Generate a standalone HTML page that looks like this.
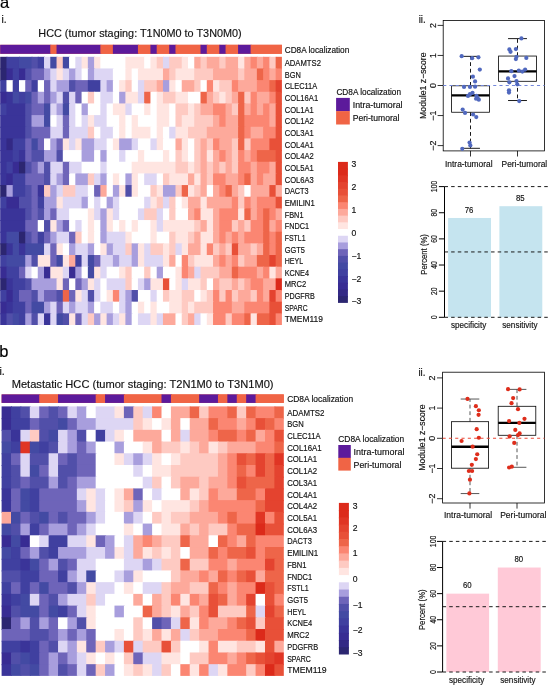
<!DOCTYPE html>
<html lang="en"><head><meta charset="utf-8"><title>Figure</title>
<style>html,body{margin:0;padding:0;background:#fff;overflow:hidden}svg{display:block}text{font-family:"Liberation Sans",sans-serif;stroke:#111;stroke-width:0.16px;paint-order:stroke fill}</style>
</head><body>
<svg width="548" height="685" viewBox="0 0 548 685">
<rect width="548" height="685" fill="#fff"/>
<text x="0" y="8.3" font-size="16.5" fill="#000">a</text>
<text x="1.6" y="22.5" font-size="10.2" fill="#111">i.</text>
<text x="140" y="36.5" font-size="11.3" text-anchor="middle" textLength="203.4" lengthAdjust="spacingAndGlyphs" fill="#111">HCC (tumor staging: T1N0M0 to T3N0M0)</text>
<g shape-rendering="geometricPrecision">
<rect x="0.2" y="44.8" width="281.7" height="9" fill="#F06445"/>
<rect x="0.2" y="44.8" width="51.08" height="9" fill="#5C1A9B"/>
<rect x="50.28" y="44.8" width="7.26" height="9" fill="#F06445"/>
<rect x="56.54" y="44.8" width="44.82" height="9" fill="#5C1A9B"/>
<rect x="100.36" y="44.8" width="13.52" height="9" fill="#F06445"/>
<rect x="112.88" y="44.8" width="26.04" height="9" fill="#5C1A9B"/>
<rect x="137.92" y="44.8" width="13.52" height="9" fill="#F06445"/>
<rect x="150.44" y="44.8" width="7.26" height="9" fill="#5C1A9B"/>
<rect x="156.7" y="44.8" width="13.52" height="9" fill="#F06445"/>
<rect x="169.22" y="44.8" width="7.26" height="9" fill="#5C1A9B"/>
<rect x="175.48" y="44.8" width="26.04" height="9" fill="#F06445"/>
<rect x="200.52" y="44.8" width="7.26" height="9" fill="#5C1A9B"/>
<rect x="206.78" y="44.8" width="13.52" height="9" fill="#F06445"/>
<rect x="219.3" y="44.8" width="7.26" height="9" fill="#5C1A9B"/>
<rect x="225.56" y="44.8" width="13.52" height="9" fill="#F06445"/>
<rect x="238.08" y="44.8" width="13.52" height="9" fill="#5C1A9B"/>
<rect x="250.6" y="44.8" width="31.3" height="9" fill="#F06445"/>
<rect x="0.2" y="56.8" width="7.26" height="12.66" fill="#2C2671"/>
<rect x="6.46" y="56.8" width="13.52" height="12.66" fill="#4040A0"/>
<rect x="18.98" y="56.8" width="13.52" height="12.66" fill="#434AA3"/>
<rect x="31.5" y="56.8" width="7.26" height="12.66" fill="#514FA9"/>
<rect x="37.76" y="56.8" width="7.26" height="12.66" fill="#4040A0"/>
<rect x="44.02" y="56.8" width="7.26" height="12.66" fill="#DDD6F4"/>
<rect x="50.28" y="56.8" width="7.26" height="12.66" fill="#434AA3"/>
<rect x="56.54" y="56.8" width="7.26" height="12.66" fill="#FECAC2"/>
<rect x="62.8" y="56.8" width="7.26" height="12.66" fill="#434AA3"/>
<rect x="69.06" y="56.8" width="7.26" height="12.66" fill="#FFFFFF"/>
<rect x="75.32" y="56.8" width="7.26" height="12.66" fill="#DDD6F4"/>
<rect x="81.58" y="56.8" width="7.26" height="12.66" fill="#FFE5E1"/>
<rect x="87.84" y="56.8" width="7.26" height="12.66" fill="#A89EDD"/>
<rect x="94.1" y="56.8" width="7.26" height="12.66" fill="#FFE5E1"/>
<rect x="100.36" y="56.8" width="26.04" height="12.66" fill="#FFFFFF"/>
<rect x="125.4" y="56.8" width="19.78" height="12.66" fill="#FFE5E1"/>
<rect x="144.18" y="56.8" width="7.26" height="12.66" fill="#FFFFFF"/>
<rect x="150.44" y="56.8" width="7.26" height="12.66" fill="#FFE5E1"/>
<rect x="156.7" y="56.8" width="7.26" height="12.66" fill="#FECAC2"/>
<rect x="162.96" y="56.8" width="7.26" height="12.66" fill="#DDD6F4"/>
<rect x="169.22" y="56.8" width="13.52" height="12.66" fill="#FECAC2"/>
<rect x="181.74" y="56.8" width="7.26" height="12.66" fill="#FFE5E1"/>
<rect x="188" y="56.8" width="7.26" height="12.66" fill="#FFFFFF"/>
<rect x="194.26" y="56.8" width="7.26" height="12.66" fill="#FDA99B"/>
<rect x="200.52" y="56.8" width="7.26" height="12.66" fill="#FECAC2"/>
<rect x="206.78" y="56.8" width="13.52" height="12.66" fill="#FDA99B"/>
<rect x="219.3" y="56.8" width="7.26" height="12.66" fill="#FECAC2"/>
<rect x="225.56" y="56.8" width="13.52" height="12.66" fill="#FDA99B"/>
<rect x="238.08" y="56.8" width="7.26" height="12.66" fill="#FFE5E1"/>
<rect x="244.34" y="56.8" width="7.26" height="12.66" fill="#FDA99B"/>
<rect x="250.6" y="56.8" width="7.26" height="12.66" fill="#FB8672"/>
<rect x="256.86" y="56.8" width="7.26" height="12.66" fill="#FDA99B"/>
<rect x="263.12" y="56.8" width="7.26" height="12.66" fill="#FB8672"/>
<rect x="269.38" y="56.8" width="7.26" height="12.66" fill="#FECAC2"/>
<rect x="275.64" y="56.8" width="6.26" height="12.66" fill="#EE6549"/>
<rect x="0.2" y="68.46" width="7.26" height="12.66" fill="#2C2671"/>
<rect x="6.46" y="68.46" width="7.26" height="12.66" fill="#382C93"/>
<rect x="12.72" y="68.46" width="7.26" height="12.66" fill="#4040A0"/>
<rect x="18.98" y="68.46" width="7.26" height="12.66" fill="#382C93"/>
<rect x="25.24" y="68.46" width="7.26" height="12.66" fill="#514FA9"/>
<rect x="31.5" y="68.46" width="13.52" height="12.66" fill="#6E64B9"/>
<rect x="44.02" y="68.46" width="7.26" height="12.66" fill="#A89EDD"/>
<rect x="50.28" y="68.46" width="7.26" height="12.66" fill="#DDD6F4"/>
<rect x="56.54" y="68.46" width="7.26" height="12.66" fill="#FFE5E1"/>
<rect x="62.8" y="68.46" width="7.26" height="12.66" fill="#DDD6F4"/>
<rect x="69.06" y="68.46" width="7.26" height="12.66" fill="#A89EDD"/>
<rect x="75.32" y="68.46" width="7.26" height="12.66" fill="#DDD6F4"/>
<rect x="81.58" y="68.46" width="7.26" height="12.66" fill="#FFFFFF"/>
<rect x="87.84" y="68.46" width="7.26" height="12.66" fill="#A89EDD"/>
<rect x="94.1" y="68.46" width="19.78" height="12.66" fill="#DDD6F4"/>
<rect x="112.88" y="68.46" width="13.52" height="12.66" fill="#FFFFFF"/>
<rect x="125.4" y="68.46" width="7.26" height="12.66" fill="#FFE5E1"/>
<rect x="131.66" y="68.46" width="7.26" height="12.66" fill="#FFFFFF"/>
<rect x="137.92" y="68.46" width="26.04" height="12.66" fill="#FFE5E1"/>
<rect x="162.96" y="68.46" width="7.26" height="12.66" fill="#FDA99B"/>
<rect x="169.22" y="68.46" width="7.26" height="12.66" fill="#FECAC2"/>
<rect x="175.48" y="68.46" width="19.78" height="12.66" fill="#FFE5E1"/>
<rect x="194.26" y="68.46" width="19.78" height="12.66" fill="#FECAC2"/>
<rect x="213.04" y="68.46" width="26.04" height="12.66" fill="#FDA99B"/>
<rect x="238.08" y="68.46" width="7.26" height="12.66" fill="#FECAC2"/>
<rect x="244.34" y="68.46" width="13.52" height="12.66" fill="#FDA99B"/>
<rect x="256.86" y="68.46" width="7.26" height="12.66" fill="#EE6549"/>
<rect x="263.12" y="68.46" width="7.26" height="12.66" fill="#FB8672"/>
<rect x="269.38" y="68.46" width="7.26" height="12.66" fill="#FDA99B"/>
<rect x="275.64" y="68.46" width="6.26" height="12.66" fill="#FB8672"/>
<rect x="0.2" y="80.12" width="7.26" height="12.66" fill="#4040A0"/>
<rect x="6.46" y="80.12" width="7.26" height="12.66" fill="#FFFFFF"/>
<rect x="12.72" y="80.12" width="7.26" height="12.66" fill="#4040A0"/>
<rect x="18.98" y="80.12" width="7.26" height="12.66" fill="#FFFFFF"/>
<rect x="25.24" y="80.12" width="7.26" height="12.66" fill="#6E64B9"/>
<rect x="31.5" y="80.12" width="7.26" height="12.66" fill="#4040A0"/>
<rect x="37.76" y="80.12" width="7.26" height="12.66" fill="#FFFFFF"/>
<rect x="44.02" y="80.12" width="7.26" height="12.66" fill="#6E64B9"/>
<rect x="50.28" y="80.12" width="7.26" height="12.66" fill="#DDD6F4"/>
<rect x="56.54" y="80.12" width="13.52" height="12.66" fill="#A89EDD"/>
<rect x="69.06" y="80.12" width="7.26" height="12.66" fill="#514FA9"/>
<rect x="75.32" y="80.12" width="13.52" height="12.66" fill="#6E64B9"/>
<rect x="87.84" y="80.12" width="13.52" height="12.66" fill="#4040A0"/>
<rect x="100.36" y="80.12" width="7.26" height="12.66" fill="#DDD6F4"/>
<rect x="106.62" y="80.12" width="7.26" height="12.66" fill="#A89EDD"/>
<rect x="112.88" y="80.12" width="7.26" height="12.66" fill="#FFFFFF"/>
<rect x="119.14" y="80.12" width="7.26" height="12.66" fill="#FFE5E1"/>
<rect x="125.4" y="80.12" width="7.26" height="12.66" fill="#FECAC2"/>
<rect x="131.66" y="80.12" width="7.26" height="12.66" fill="#FFFFFF"/>
<rect x="137.92" y="80.12" width="7.26" height="12.66" fill="#DDD6F4"/>
<rect x="144.18" y="80.12" width="13.52" height="12.66" fill="#FECAC2"/>
<rect x="156.7" y="80.12" width="7.26" height="12.66" fill="#FDA99B"/>
<rect x="162.96" y="80.12" width="7.26" height="12.66" fill="#A89EDD"/>
<rect x="169.22" y="80.12" width="7.26" height="12.66" fill="#FFE5E1"/>
<rect x="175.48" y="80.12" width="7.26" height="12.66" fill="#FFFFFF"/>
<rect x="181.74" y="80.12" width="13.52" height="12.66" fill="#FDA99B"/>
<rect x="194.26" y="80.12" width="7.26" height="12.66" fill="#FECAC2"/>
<rect x="200.52" y="80.12" width="7.26" height="12.66" fill="#FFFFFF"/>
<rect x="206.78" y="80.12" width="7.26" height="12.66" fill="#FB8672"/>
<rect x="213.04" y="80.12" width="7.26" height="12.66" fill="#FFE5E1"/>
<rect x="219.3" y="80.12" width="13.52" height="12.66" fill="#FECAC2"/>
<rect x="231.82" y="80.12" width="7.26" height="12.66" fill="#FB8672"/>
<rect x="238.08" y="80.12" width="19.78" height="12.66" fill="#FDA99B"/>
<rect x="256.86" y="80.12" width="13.52" height="12.66" fill="#FB8672"/>
<rect x="269.38" y="80.12" width="7.26" height="12.66" fill="#EE6549"/>
<rect x="275.64" y="80.12" width="6.26" height="12.66" fill="#E4432F"/>
<rect x="0.2" y="91.78" width="7.26" height="12.66" fill="#382C93"/>
<rect x="6.46" y="91.78" width="7.26" height="12.66" fill="#3A3499"/>
<rect x="12.72" y="91.78" width="7.26" height="12.66" fill="#434AA3"/>
<rect x="18.98" y="91.78" width="7.26" height="12.66" fill="#4040A0"/>
<rect x="25.24" y="91.78" width="7.26" height="12.66" fill="#434AA3"/>
<rect x="31.5" y="91.78" width="7.26" height="12.66" fill="#6E64B9"/>
<rect x="37.76" y="91.78" width="7.26" height="12.66" fill="#A89EDD"/>
<rect x="44.02" y="91.78" width="7.26" height="12.66" fill="#6E64B9"/>
<rect x="50.28" y="91.78" width="7.26" height="12.66" fill="#A89EDD"/>
<rect x="56.54" y="91.78" width="7.26" height="12.66" fill="#DDD6F4"/>
<rect x="62.8" y="91.78" width="7.26" height="12.66" fill="#514FA9"/>
<rect x="69.06" y="91.78" width="7.26" height="12.66" fill="#DDD6F4"/>
<rect x="75.32" y="91.78" width="7.26" height="12.66" fill="#6E64B9"/>
<rect x="81.58" y="91.78" width="7.26" height="12.66" fill="#FFFFFF"/>
<rect x="87.84" y="91.78" width="7.26" height="12.66" fill="#FECAC2"/>
<rect x="94.1" y="91.78" width="7.26" height="12.66" fill="#FFFFFF"/>
<rect x="100.36" y="91.78" width="13.52" height="12.66" fill="#DDD6F4"/>
<rect x="112.88" y="91.78" width="7.26" height="12.66" fill="#FFFFFF"/>
<rect x="119.14" y="91.78" width="7.26" height="12.66" fill="#A89EDD"/>
<rect x="125.4" y="91.78" width="13.52" height="12.66" fill="#FFE5E1"/>
<rect x="137.92" y="91.78" width="7.26" height="12.66" fill="#DDD6F4"/>
<rect x="144.18" y="91.78" width="7.26" height="12.66" fill="#EE6549"/>
<rect x="150.44" y="91.78" width="7.26" height="12.66" fill="#FFFFFF"/>
<rect x="156.7" y="91.78" width="7.26" height="12.66" fill="#FFE5E1"/>
<rect x="162.96" y="91.78" width="13.52" height="12.66" fill="#FECAC2"/>
<rect x="175.48" y="91.78" width="13.52" height="12.66" fill="#FFE5E1"/>
<rect x="188" y="91.78" width="13.52" height="12.66" fill="#FFFFFF"/>
<rect x="200.52" y="91.78" width="7.26" height="12.66" fill="#EE6549"/>
<rect x="206.78" y="91.78" width="7.26" height="12.66" fill="#FDA99B"/>
<rect x="213.04" y="91.78" width="7.26" height="12.66" fill="#FECAC2"/>
<rect x="219.3" y="91.78" width="7.26" height="12.66" fill="#FFE5E1"/>
<rect x="225.56" y="91.78" width="7.26" height="12.66" fill="#FECAC2"/>
<rect x="231.82" y="91.78" width="7.26" height="12.66" fill="#FDA99B"/>
<rect x="238.08" y="91.78" width="7.26" height="12.66" fill="#EE6549"/>
<rect x="244.34" y="91.78" width="7.26" height="12.66" fill="#FECAC2"/>
<rect x="250.6" y="91.78" width="7.26" height="12.66" fill="#FB8672"/>
<rect x="256.86" y="91.78" width="13.52" height="12.66" fill="#FDA99B"/>
<rect x="269.38" y="91.78" width="7.26" height="12.66" fill="#FB8672"/>
<rect x="275.64" y="91.78" width="6.26" height="12.66" fill="#E85038"/>
<rect x="0.2" y="103.44" width="7.26" height="12.66" fill="#4040A0"/>
<rect x="6.46" y="103.44" width="19.78" height="12.66" fill="#3A3499"/>
<rect x="25.24" y="103.44" width="7.26" height="12.66" fill="#514FA9"/>
<rect x="31.5" y="103.44" width="13.52" height="12.66" fill="#6E64B9"/>
<rect x="44.02" y="103.44" width="7.26" height="12.66" fill="#434AA3"/>
<rect x="50.28" y="103.44" width="7.26" height="12.66" fill="#DDD6F4"/>
<rect x="56.54" y="103.44" width="7.26" height="12.66" fill="#A89EDD"/>
<rect x="62.8" y="103.44" width="7.26" height="12.66" fill="#434AA3"/>
<rect x="69.06" y="103.44" width="7.26" height="12.66" fill="#DDD6F4"/>
<rect x="75.32" y="103.44" width="7.26" height="12.66" fill="#FFFFFF"/>
<rect x="81.58" y="103.44" width="7.26" height="12.66" fill="#A89EDD"/>
<rect x="87.84" y="103.44" width="13.52" height="12.66" fill="#FFFFFF"/>
<rect x="100.36" y="103.44" width="7.26" height="12.66" fill="#DDD6F4"/>
<rect x="106.62" y="103.44" width="7.26" height="12.66" fill="#FFFFFF"/>
<rect x="112.88" y="103.44" width="13.52" height="12.66" fill="#FFE5E1"/>
<rect x="125.4" y="103.44" width="7.26" height="12.66" fill="#DDD6F4"/>
<rect x="131.66" y="103.44" width="13.52" height="12.66" fill="#FFFFFF"/>
<rect x="144.18" y="103.44" width="7.26" height="12.66" fill="#FFE5E1"/>
<rect x="150.44" y="103.44" width="7.26" height="12.66" fill="#FFFFFF"/>
<rect x="156.7" y="103.44" width="13.52" height="12.66" fill="#FFE5E1"/>
<rect x="169.22" y="103.44" width="7.26" height="12.66" fill="#FFFFFF"/>
<rect x="175.48" y="103.44" width="13.52" height="12.66" fill="#FECAC2"/>
<rect x="188" y="103.44" width="7.26" height="12.66" fill="#FFE5E1"/>
<rect x="194.26" y="103.44" width="7.26" height="12.66" fill="#FECAC2"/>
<rect x="200.52" y="103.44" width="13.52" height="12.66" fill="#FDA99B"/>
<rect x="213.04" y="103.44" width="13.52" height="12.66" fill="#FB8672"/>
<rect x="225.56" y="103.44" width="7.26" height="12.66" fill="#FDA99B"/>
<rect x="231.82" y="103.44" width="7.26" height="12.66" fill="#FECAC2"/>
<rect x="238.08" y="103.44" width="7.26" height="12.66" fill="#EE6549"/>
<rect x="244.34" y="103.44" width="7.26" height="12.66" fill="#FDA99B"/>
<rect x="250.6" y="103.44" width="7.26" height="12.66" fill="#FB8672"/>
<rect x="256.86" y="103.44" width="7.26" height="12.66" fill="#FDA99B"/>
<rect x="263.12" y="103.44" width="7.26" height="12.66" fill="#FB8672"/>
<rect x="269.38" y="103.44" width="7.26" height="12.66" fill="#FDA99B"/>
<rect x="275.64" y="103.44" width="6.26" height="12.66" fill="#E85038"/>
<rect x="0.2" y="115.1" width="26.04" height="12.66" fill="#3A3499"/>
<rect x="25.24" y="115.1" width="7.26" height="12.66" fill="#514FA9"/>
<rect x="31.5" y="115.1" width="13.52" height="12.66" fill="#A89EDD"/>
<rect x="44.02" y="115.1" width="7.26" height="12.66" fill="#434AA3"/>
<rect x="50.28" y="115.1" width="7.26" height="12.66" fill="#FFFFFF"/>
<rect x="56.54" y="115.1" width="7.26" height="12.66" fill="#DDD6F4"/>
<rect x="62.8" y="115.1" width="7.26" height="12.66" fill="#6E64B9"/>
<rect x="69.06" y="115.1" width="7.26" height="12.66" fill="#DDD6F4"/>
<rect x="75.32" y="115.1" width="7.26" height="12.66" fill="#FFFFFF"/>
<rect x="81.58" y="115.1" width="7.26" height="12.66" fill="#DDD6F4"/>
<rect x="87.84" y="115.1" width="7.26" height="12.66" fill="#FFE5E1"/>
<rect x="94.1" y="115.1" width="13.52" height="12.66" fill="#DDD6F4"/>
<rect x="106.62" y="115.1" width="13.52" height="12.66" fill="#FFFFFF"/>
<rect x="119.14" y="115.1" width="7.26" height="12.66" fill="#FFE5E1"/>
<rect x="125.4" y="115.1" width="7.26" height="12.66" fill="#FFFFFF"/>
<rect x="131.66" y="115.1" width="7.26" height="12.66" fill="#FFE5E1"/>
<rect x="137.92" y="115.1" width="19.78" height="12.66" fill="#FFFFFF"/>
<rect x="156.7" y="115.1" width="13.52" height="12.66" fill="#FFE5E1"/>
<rect x="169.22" y="115.1" width="7.26" height="12.66" fill="#FFFFFF"/>
<rect x="175.48" y="115.1" width="7.26" height="12.66" fill="#FECAC2"/>
<rect x="181.74" y="115.1" width="13.52" height="12.66" fill="#FFE5E1"/>
<rect x="194.26" y="115.1" width="19.78" height="12.66" fill="#FECAC2"/>
<rect x="213.04" y="115.1" width="7.26" height="12.66" fill="#FDA99B"/>
<rect x="219.3" y="115.1" width="7.26" height="12.66" fill="#FB8672"/>
<rect x="225.56" y="115.1" width="13.52" height="12.66" fill="#FDA99B"/>
<rect x="238.08" y="115.1" width="7.26" height="12.66" fill="#EE6549"/>
<rect x="244.34" y="115.1" width="26.04" height="12.66" fill="#FB8672"/>
<rect x="269.38" y="115.1" width="7.26" height="12.66" fill="#FDA99B"/>
<rect x="275.64" y="115.1" width="6.26" height="12.66" fill="#E85038"/>
<rect x="0.2" y="126.77" width="26.04" height="12.66" fill="#3A3499"/>
<rect x="25.24" y="126.77" width="7.26" height="12.66" fill="#514FA9"/>
<rect x="31.5" y="126.77" width="19.78" height="12.66" fill="#6E64B9"/>
<rect x="50.28" y="126.77" width="13.52" height="12.66" fill="#DDD6F4"/>
<rect x="62.8" y="126.77" width="7.26" height="12.66" fill="#6E64B9"/>
<rect x="69.06" y="126.77" width="19.78" height="12.66" fill="#DDD6F4"/>
<rect x="87.84" y="126.77" width="7.26" height="12.66" fill="#FECAC2"/>
<rect x="94.1" y="126.77" width="7.26" height="12.66" fill="#FFFFFF"/>
<rect x="100.36" y="126.77" width="13.52" height="12.66" fill="#DDD6F4"/>
<rect x="112.88" y="126.77" width="7.26" height="12.66" fill="#FFFFFF"/>
<rect x="119.14" y="126.77" width="7.26" height="12.66" fill="#FFE5E1"/>
<rect x="125.4" y="126.77" width="7.26" height="12.66" fill="#FFFFFF"/>
<rect x="131.66" y="126.77" width="19.78" height="12.66" fill="#FFE5E1"/>
<rect x="150.44" y="126.77" width="7.26" height="12.66" fill="#FFFFFF"/>
<rect x="156.7" y="126.77" width="7.26" height="12.66" fill="#FFE5E1"/>
<rect x="162.96" y="126.77" width="7.26" height="12.66" fill="#FFFFFF"/>
<rect x="169.22" y="126.77" width="7.26" height="12.66" fill="#DDD6F4"/>
<rect x="175.48" y="126.77" width="13.52" height="12.66" fill="#FFE5E1"/>
<rect x="188" y="126.77" width="19.78" height="12.66" fill="#FECAC2"/>
<rect x="206.78" y="126.77" width="32.3" height="12.66" fill="#FDA99B"/>
<rect x="238.08" y="126.77" width="7.26" height="12.66" fill="#EE6549"/>
<rect x="244.34" y="126.77" width="7.26" height="12.66" fill="#FB8672"/>
<rect x="250.6" y="126.77" width="13.52" height="12.66" fill="#FDA99B"/>
<rect x="263.12" y="126.77" width="13.52" height="12.66" fill="#FB8672"/>
<rect x="275.64" y="126.77" width="6.26" height="12.66" fill="#E85038"/>
<rect x="0.2" y="138.43" width="7.26" height="12.66" fill="#3A3499"/>
<rect x="6.46" y="138.43" width="7.26" height="12.66" fill="#332985"/>
<rect x="12.72" y="138.43" width="13.52" height="12.66" fill="#4040A0"/>
<rect x="25.24" y="138.43" width="7.26" height="12.66" fill="#6E64B9"/>
<rect x="31.5" y="138.43" width="7.26" height="12.66" fill="#434AA3"/>
<rect x="37.76" y="138.43" width="7.26" height="12.66" fill="#6E64B9"/>
<rect x="44.02" y="138.43" width="7.26" height="12.66" fill="#FFFFFF"/>
<rect x="50.28" y="138.43" width="7.26" height="12.66" fill="#A89EDD"/>
<rect x="56.54" y="138.43" width="7.26" height="12.66" fill="#6E64B9"/>
<rect x="62.8" y="138.43" width="7.26" height="12.66" fill="#FFE5E1"/>
<rect x="69.06" y="138.43" width="7.26" height="12.66" fill="#DDD6F4"/>
<rect x="75.32" y="138.43" width="7.26" height="12.66" fill="#FFE5E1"/>
<rect x="81.58" y="138.43" width="13.52" height="12.66" fill="#A89EDD"/>
<rect x="94.1" y="138.43" width="13.52" height="12.66" fill="#DDD6F4"/>
<rect x="106.62" y="138.43" width="7.26" height="12.66" fill="#FFFFFF"/>
<rect x="112.88" y="138.43" width="7.26" height="12.66" fill="#FFE5E1"/>
<rect x="119.14" y="138.43" width="13.52" height="12.66" fill="#A89EDD"/>
<rect x="131.66" y="138.43" width="7.26" height="12.66" fill="#DDD6F4"/>
<rect x="137.92" y="138.43" width="13.52" height="12.66" fill="#FFFFFF"/>
<rect x="150.44" y="138.43" width="7.26" height="12.66" fill="#DDD6F4"/>
<rect x="156.7" y="138.43" width="7.26" height="12.66" fill="#FFE5E1"/>
<rect x="162.96" y="138.43" width="13.52" height="12.66" fill="#FFFFFF"/>
<rect x="175.48" y="138.43" width="7.26" height="12.66" fill="#FDA99B"/>
<rect x="181.74" y="138.43" width="7.26" height="12.66" fill="#FFE5E1"/>
<rect x="188" y="138.43" width="7.26" height="12.66" fill="#FFFFFF"/>
<rect x="194.26" y="138.43" width="7.26" height="12.66" fill="#FECAC2"/>
<rect x="200.52" y="138.43" width="7.26" height="12.66" fill="#FDA99B"/>
<rect x="206.78" y="138.43" width="7.26" height="12.66" fill="#FECAC2"/>
<rect x="213.04" y="138.43" width="7.26" height="12.66" fill="#FB8672"/>
<rect x="219.3" y="138.43" width="13.52" height="12.66" fill="#FDA99B"/>
<rect x="231.82" y="138.43" width="7.26" height="12.66" fill="#FECAC2"/>
<rect x="238.08" y="138.43" width="7.26" height="12.66" fill="#EE6549"/>
<rect x="244.34" y="138.43" width="7.26" height="12.66" fill="#FECAC2"/>
<rect x="250.6" y="138.43" width="19.78" height="12.66" fill="#FB8672"/>
<rect x="269.38" y="138.43" width="12.52" height="12.66" fill="#E85038"/>
<rect x="0.2" y="150.09" width="13.52" height="12.66" fill="#3A3499"/>
<rect x="12.72" y="150.09" width="7.26" height="12.66" fill="#4040A0"/>
<rect x="18.98" y="150.09" width="7.26" height="12.66" fill="#3A3499"/>
<rect x="25.24" y="150.09" width="7.26" height="12.66" fill="#6E64B9"/>
<rect x="31.5" y="150.09" width="13.52" height="12.66" fill="#514FA9"/>
<rect x="44.02" y="150.09" width="13.52" height="12.66" fill="#A89EDD"/>
<rect x="56.54" y="150.09" width="7.26" height="12.66" fill="#514FA9"/>
<rect x="62.8" y="150.09" width="19.78" height="12.66" fill="#FFFFFF"/>
<rect x="81.58" y="150.09" width="13.52" height="12.66" fill="#A89EDD"/>
<rect x="94.1" y="150.09" width="7.26" height="12.66" fill="#FFFFFF"/>
<rect x="100.36" y="150.09" width="7.26" height="12.66" fill="#A89EDD"/>
<rect x="106.62" y="150.09" width="13.52" height="12.66" fill="#FFFFFF"/>
<rect x="119.14" y="150.09" width="7.26" height="12.66" fill="#DDD6F4"/>
<rect x="125.4" y="150.09" width="13.52" height="12.66" fill="#FFFFFF"/>
<rect x="137.92" y="150.09" width="7.26" height="12.66" fill="#FFE5E1"/>
<rect x="144.18" y="150.09" width="19.78" height="12.66" fill="#FFFFFF"/>
<rect x="162.96" y="150.09" width="7.26" height="12.66" fill="#FFE5E1"/>
<rect x="169.22" y="150.09" width="7.26" height="12.66" fill="#FFFFFF"/>
<rect x="175.48" y="150.09" width="7.26" height="12.66" fill="#FECAC2"/>
<rect x="181.74" y="150.09" width="7.26" height="12.66" fill="#FFE5E1"/>
<rect x="188" y="150.09" width="7.26" height="12.66" fill="#FFFFFF"/>
<rect x="194.26" y="150.09" width="7.26" height="12.66" fill="#FECAC2"/>
<rect x="200.52" y="150.09" width="7.26" height="12.66" fill="#FDA99B"/>
<rect x="206.78" y="150.09" width="7.26" height="12.66" fill="#FFE5E1"/>
<rect x="213.04" y="150.09" width="7.26" height="12.66" fill="#FDA99B"/>
<rect x="219.3" y="150.09" width="7.26" height="12.66" fill="#FB8672"/>
<rect x="225.56" y="150.09" width="7.26" height="12.66" fill="#FDA99B"/>
<rect x="231.82" y="150.09" width="7.26" height="12.66" fill="#FECAC2"/>
<rect x="238.08" y="150.09" width="7.26" height="12.66" fill="#FB8672"/>
<rect x="244.34" y="150.09" width="7.26" height="12.66" fill="#FDA99B"/>
<rect x="250.6" y="150.09" width="7.26" height="12.66" fill="#FB8672"/>
<rect x="256.86" y="150.09" width="19.78" height="12.66" fill="#EE6549"/>
<rect x="275.64" y="150.09" width="6.26" height="12.66" fill="#E85038"/>
<rect x="0.2" y="161.75" width="7.26" height="12.66" fill="#3A3499"/>
<rect x="6.46" y="161.75" width="7.26" height="12.66" fill="#4040A0"/>
<rect x="12.72" y="161.75" width="7.26" height="12.66" fill="#382C93"/>
<rect x="18.98" y="161.75" width="7.26" height="12.66" fill="#2C2671"/>
<rect x="25.24" y="161.75" width="7.26" height="12.66" fill="#514FA9"/>
<rect x="31.5" y="161.75" width="7.26" height="12.66" fill="#6E64B9"/>
<rect x="37.76" y="161.75" width="7.26" height="12.66" fill="#A89EDD"/>
<rect x="44.02" y="161.75" width="7.26" height="12.66" fill="#514FA9"/>
<rect x="50.28" y="161.75" width="13.52" height="12.66" fill="#DDD6F4"/>
<rect x="62.8" y="161.75" width="7.26" height="12.66" fill="#6E64B9"/>
<rect x="69.06" y="161.75" width="13.52" height="12.66" fill="#DDD6F4"/>
<rect x="81.58" y="161.75" width="19.78" height="12.66" fill="#FFFFFF"/>
<rect x="100.36" y="161.75" width="7.26" height="12.66" fill="#DDD6F4"/>
<rect x="106.62" y="161.75" width="26.04" height="12.66" fill="#FFFFFF"/>
<rect x="131.66" y="161.75" width="44.82" height="12.66" fill="#FFE5E1"/>
<rect x="175.48" y="161.75" width="13.52" height="12.66" fill="#FECAC2"/>
<rect x="188" y="161.75" width="7.26" height="12.66" fill="#FFE5E1"/>
<rect x="194.26" y="161.75" width="7.26" height="12.66" fill="#FECAC2"/>
<rect x="200.52" y="161.75" width="7.26" height="12.66" fill="#FDA99B"/>
<rect x="206.78" y="161.75" width="7.26" height="12.66" fill="#FECAC2"/>
<rect x="213.04" y="161.75" width="7.26" height="12.66" fill="#FDA99B"/>
<rect x="219.3" y="161.75" width="7.26" height="12.66" fill="#FECAC2"/>
<rect x="225.56" y="161.75" width="7.26" height="12.66" fill="#FDA99B"/>
<rect x="231.82" y="161.75" width="7.26" height="12.66" fill="#FECAC2"/>
<rect x="238.08" y="161.75" width="13.52" height="12.66" fill="#FB8672"/>
<rect x="250.6" y="161.75" width="7.26" height="12.66" fill="#FDA99B"/>
<rect x="256.86" y="161.75" width="13.52" height="12.66" fill="#FB8672"/>
<rect x="269.38" y="161.75" width="7.26" height="12.66" fill="#FDA99B"/>
<rect x="275.64" y="161.75" width="6.26" height="12.66" fill="#E85038"/>
<rect x="0.2" y="173.41" width="7.26" height="12.66" fill="#3A3499"/>
<rect x="6.46" y="173.41" width="7.26" height="12.66" fill="#382C93"/>
<rect x="12.72" y="173.41" width="13.52" height="12.66" fill="#4040A0"/>
<rect x="25.24" y="173.41" width="19.78" height="12.66" fill="#6E64B9"/>
<rect x="44.02" y="173.41" width="7.26" height="12.66" fill="#514FA9"/>
<rect x="50.28" y="173.41" width="7.26" height="12.66" fill="#DDD6F4"/>
<rect x="56.54" y="173.41" width="7.26" height="12.66" fill="#A89EDD"/>
<rect x="62.8" y="173.41" width="7.26" height="12.66" fill="#6E64B9"/>
<rect x="69.06" y="173.41" width="7.26" height="12.66" fill="#FFFFFF"/>
<rect x="75.32" y="173.41" width="13.52" height="12.66" fill="#A89EDD"/>
<rect x="87.84" y="173.41" width="7.26" height="12.66" fill="#FECAC2"/>
<rect x="94.1" y="173.41" width="7.26" height="12.66" fill="#DDD6F4"/>
<rect x="100.36" y="173.41" width="7.26" height="12.66" fill="#A89EDD"/>
<rect x="106.62" y="173.41" width="7.26" height="12.66" fill="#FFFFFF"/>
<rect x="112.88" y="173.41" width="7.26" height="12.66" fill="#FFE5E1"/>
<rect x="119.14" y="173.41" width="7.26" height="12.66" fill="#FFFFFF"/>
<rect x="125.4" y="173.41" width="7.26" height="12.66" fill="#A89EDD"/>
<rect x="131.66" y="173.41" width="7.26" height="12.66" fill="#FFE5E1"/>
<rect x="137.92" y="173.41" width="7.26" height="12.66" fill="#FFFFFF"/>
<rect x="144.18" y="173.41" width="13.52" height="12.66" fill="#DDD6F4"/>
<rect x="156.7" y="173.41" width="7.26" height="12.66" fill="#FFFFFF"/>
<rect x="162.96" y="173.41" width="7.26" height="12.66" fill="#FECAC2"/>
<rect x="169.22" y="173.41" width="19.78" height="12.66" fill="#FFE5E1"/>
<rect x="188" y="173.41" width="7.26" height="12.66" fill="#FDA99B"/>
<rect x="194.26" y="173.41" width="7.26" height="12.66" fill="#FFE5E1"/>
<rect x="200.52" y="173.41" width="7.26" height="12.66" fill="#FDA99B"/>
<rect x="206.78" y="173.41" width="7.26" height="12.66" fill="#FECAC2"/>
<rect x="213.04" y="173.41" width="13.52" height="12.66" fill="#FB8672"/>
<rect x="225.56" y="173.41" width="13.52" height="12.66" fill="#FDA99B"/>
<rect x="238.08" y="173.41" width="7.26" height="12.66" fill="#FB8672"/>
<rect x="244.34" y="173.41" width="7.26" height="12.66" fill="#EE6549"/>
<rect x="250.6" y="173.41" width="7.26" height="12.66" fill="#FDA99B"/>
<rect x="256.86" y="173.41" width="7.26" height="12.66" fill="#FB8672"/>
<rect x="263.12" y="173.41" width="13.52" height="12.66" fill="#FDA99B"/>
<rect x="275.64" y="173.41" width="6.26" height="12.66" fill="#E85038"/>
<rect x="0.2" y="185.07" width="7.26" height="12.66" fill="#2C2671"/>
<rect x="6.46" y="185.07" width="7.26" height="12.66" fill="#A89EDD"/>
<rect x="12.72" y="185.07" width="13.52" height="12.66" fill="#4040A0"/>
<rect x="25.24" y="185.07" width="7.26" height="12.66" fill="#514FA9"/>
<rect x="31.5" y="185.07" width="7.26" height="12.66" fill="#6E64B9"/>
<rect x="37.76" y="185.07" width="7.26" height="12.66" fill="#3A3499"/>
<rect x="44.02" y="185.07" width="7.26" height="12.66" fill="#FECAC2"/>
<rect x="50.28" y="185.07" width="7.26" height="12.66" fill="#A89EDD"/>
<rect x="56.54" y="185.07" width="7.26" height="12.66" fill="#DDD6F4"/>
<rect x="62.8" y="185.07" width="13.52" height="12.66" fill="#FECAC2"/>
<rect x="75.32" y="185.07" width="13.52" height="12.66" fill="#DDD6F4"/>
<rect x="87.84" y="185.07" width="7.26" height="12.66" fill="#FFFFFF"/>
<rect x="94.1" y="185.07" width="7.26" height="12.66" fill="#6E64B9"/>
<rect x="100.36" y="185.07" width="7.26" height="12.66" fill="#FDA99B"/>
<rect x="106.62" y="185.07" width="7.26" height="12.66" fill="#FFFFFF"/>
<rect x="112.88" y="185.07" width="7.26" height="12.66" fill="#A89EDD"/>
<rect x="119.14" y="185.07" width="7.26" height="12.66" fill="#FFE5E1"/>
<rect x="125.4" y="185.07" width="7.26" height="12.66" fill="#514FA9"/>
<rect x="131.66" y="185.07" width="7.26" height="12.66" fill="#FFE5E1"/>
<rect x="137.92" y="185.07" width="13.52" height="12.66" fill="#FFFFFF"/>
<rect x="150.44" y="185.07" width="7.26" height="12.66" fill="#FECAC2"/>
<rect x="156.7" y="185.07" width="7.26" height="12.66" fill="#FFE5E1"/>
<rect x="162.96" y="185.07" width="13.52" height="12.66" fill="#A89EDD"/>
<rect x="175.48" y="185.07" width="7.26" height="12.66" fill="#FECAC2"/>
<rect x="181.74" y="185.07" width="7.26" height="12.66" fill="#EE6549"/>
<rect x="188" y="185.07" width="7.26" height="12.66" fill="#FFE5E1"/>
<rect x="194.26" y="185.07" width="7.26" height="12.66" fill="#FECAC2"/>
<rect x="200.52" y="185.07" width="7.26" height="12.66" fill="#FDA99B"/>
<rect x="206.78" y="185.07" width="7.26" height="12.66" fill="#FFFFFF"/>
<rect x="213.04" y="185.07" width="7.26" height="12.66" fill="#FDA99B"/>
<rect x="219.3" y="185.07" width="7.26" height="12.66" fill="#FB8672"/>
<rect x="225.56" y="185.07" width="7.26" height="12.66" fill="#EE6549"/>
<rect x="231.82" y="185.07" width="7.26" height="12.66" fill="#FDA99B"/>
<rect x="238.08" y="185.07" width="7.26" height="12.66" fill="#FECAC2"/>
<rect x="244.34" y="185.07" width="7.26" height="12.66" fill="#FFFFFF"/>
<rect x="250.6" y="185.07" width="19.78" height="12.66" fill="#FDA99B"/>
<rect x="269.38" y="185.07" width="7.26" height="12.66" fill="#E85038"/>
<rect x="275.64" y="185.07" width="6.26" height="12.66" fill="#FDA99B"/>
<rect x="0.2" y="196.73" width="7.26" height="12.66" fill="#4040A0"/>
<rect x="6.46" y="196.73" width="13.52" height="12.66" fill="#382C93"/>
<rect x="18.98" y="196.73" width="13.52" height="12.66" fill="#514FA9"/>
<rect x="31.5" y="196.73" width="7.26" height="12.66" fill="#6E64B9"/>
<rect x="37.76" y="196.73" width="7.26" height="12.66" fill="#4040A0"/>
<rect x="44.02" y="196.73" width="13.52" height="12.66" fill="#A89EDD"/>
<rect x="56.54" y="196.73" width="7.26" height="12.66" fill="#FFE5E1"/>
<rect x="62.8" y="196.73" width="19.78" height="12.66" fill="#DDD6F4"/>
<rect x="81.58" y="196.73" width="7.26" height="12.66" fill="#A89EDD"/>
<rect x="87.84" y="196.73" width="7.26" height="12.66" fill="#FFFFFF"/>
<rect x="94.1" y="196.73" width="7.26" height="12.66" fill="#DDD6F4"/>
<rect x="100.36" y="196.73" width="7.26" height="12.66" fill="#FFFFFF"/>
<rect x="106.62" y="196.73" width="7.26" height="12.66" fill="#A89EDD"/>
<rect x="112.88" y="196.73" width="7.26" height="12.66" fill="#DDD6F4"/>
<rect x="119.14" y="196.73" width="26.04" height="12.66" fill="#FFFFFF"/>
<rect x="144.18" y="196.73" width="7.26" height="12.66" fill="#DDD6F4"/>
<rect x="150.44" y="196.73" width="7.26" height="12.66" fill="#FFE5E1"/>
<rect x="156.7" y="196.73" width="7.26" height="12.66" fill="#FECAC2"/>
<rect x="162.96" y="196.73" width="7.26" height="12.66" fill="#DDD6F4"/>
<rect x="169.22" y="196.73" width="7.26" height="12.66" fill="#FECAC2"/>
<rect x="175.48" y="196.73" width="7.26" height="12.66" fill="#FFFFFF"/>
<rect x="181.74" y="196.73" width="7.26" height="12.66" fill="#FFE5E1"/>
<rect x="188" y="196.73" width="13.52" height="12.66" fill="#FDA99B"/>
<rect x="200.52" y="196.73" width="7.26" height="12.66" fill="#FFE5E1"/>
<rect x="206.78" y="196.73" width="26.04" height="12.66" fill="#FDA99B"/>
<rect x="231.82" y="196.73" width="7.26" height="12.66" fill="#FB8672"/>
<rect x="238.08" y="196.73" width="7.26" height="12.66" fill="#FECAC2"/>
<rect x="244.34" y="196.73" width="7.26" height="12.66" fill="#FB8672"/>
<rect x="250.6" y="196.73" width="7.26" height="12.66" fill="#FDA99B"/>
<rect x="256.86" y="196.73" width="19.78" height="12.66" fill="#FB8672"/>
<rect x="275.64" y="196.73" width="6.26" height="12.66" fill="#E85038"/>
<rect x="0.2" y="208.39" width="26.04" height="12.66" fill="#3A3499"/>
<rect x="25.24" y="208.39" width="7.26" height="12.66" fill="#514FA9"/>
<rect x="31.5" y="208.39" width="7.26" height="12.66" fill="#6E64B9"/>
<rect x="37.76" y="208.39" width="7.26" height="12.66" fill="#514FA9"/>
<rect x="44.02" y="208.39" width="7.26" height="12.66" fill="#A89EDD"/>
<rect x="50.28" y="208.39" width="7.26" height="12.66" fill="#6E64B9"/>
<rect x="56.54" y="208.39" width="13.52" height="12.66" fill="#DDD6F4"/>
<rect x="69.06" y="208.39" width="19.78" height="12.66" fill="#FFFFFF"/>
<rect x="87.84" y="208.39" width="7.26" height="12.66" fill="#FFE5E1"/>
<rect x="94.1" y="208.39" width="7.26" height="12.66" fill="#DDD6F4"/>
<rect x="100.36" y="208.39" width="7.26" height="12.66" fill="#A89EDD"/>
<rect x="106.62" y="208.39" width="7.26" height="12.66" fill="#FFE5E1"/>
<rect x="112.88" y="208.39" width="7.26" height="12.66" fill="#DDD6F4"/>
<rect x="119.14" y="208.39" width="19.78" height="12.66" fill="#FFFFFF"/>
<rect x="137.92" y="208.39" width="7.26" height="12.66" fill="#DDD6F4"/>
<rect x="144.18" y="208.39" width="13.52" height="12.66" fill="#FECAC2"/>
<rect x="156.7" y="208.39" width="7.26" height="12.66" fill="#DDD6F4"/>
<rect x="162.96" y="208.39" width="7.26" height="12.66" fill="#FFFFFF"/>
<rect x="169.22" y="208.39" width="7.26" height="12.66" fill="#FECAC2"/>
<rect x="175.48" y="208.39" width="13.52" height="12.66" fill="#FFFFFF"/>
<rect x="188" y="208.39" width="7.26" height="12.66" fill="#FDA99B"/>
<rect x="194.26" y="208.39" width="7.26" height="12.66" fill="#FB8672"/>
<rect x="200.52" y="208.39" width="13.52" height="12.66" fill="#FFE5E1"/>
<rect x="213.04" y="208.39" width="7.26" height="12.66" fill="#FDA99B"/>
<rect x="219.3" y="208.39" width="19.78" height="12.66" fill="#FB8672"/>
<rect x="238.08" y="208.39" width="7.26" height="12.66" fill="#FFE5E1"/>
<rect x="244.34" y="208.39" width="7.26" height="12.66" fill="#EE6549"/>
<rect x="250.6" y="208.39" width="7.26" height="12.66" fill="#FDA99B"/>
<rect x="256.86" y="208.39" width="7.26" height="12.66" fill="#FB8672"/>
<rect x="263.12" y="208.39" width="7.26" height="12.66" fill="#EE6549"/>
<rect x="269.38" y="208.39" width="7.26" height="12.66" fill="#FB8672"/>
<rect x="275.64" y="208.39" width="6.26" height="12.66" fill="#FDA99B"/>
<rect x="0.2" y="220.05" width="26.04" height="12.66" fill="#3A3499"/>
<rect x="25.24" y="220.05" width="13.52" height="12.66" fill="#6E64B9"/>
<rect x="37.76" y="220.05" width="7.26" height="12.66" fill="#FFFFFF"/>
<rect x="44.02" y="220.05" width="7.26" height="12.66" fill="#514FA9"/>
<rect x="50.28" y="220.05" width="7.26" height="12.66" fill="#FFE5E1"/>
<rect x="56.54" y="220.05" width="7.26" height="12.66" fill="#A89EDD"/>
<rect x="62.8" y="220.05" width="7.26" height="12.66" fill="#6E64B9"/>
<rect x="69.06" y="220.05" width="7.26" height="12.66" fill="#FFFFFF"/>
<rect x="75.32" y="220.05" width="7.26" height="12.66" fill="#DDD6F4"/>
<rect x="81.58" y="220.05" width="7.26" height="12.66" fill="#FFFFFF"/>
<rect x="87.84" y="220.05" width="7.26" height="12.66" fill="#FFE5E1"/>
<rect x="94.1" y="220.05" width="7.26" height="12.66" fill="#FFFFFF"/>
<rect x="100.36" y="220.05" width="7.26" height="12.66" fill="#A89EDD"/>
<rect x="106.62" y="220.05" width="7.26" height="12.66" fill="#FFE5E1"/>
<rect x="112.88" y="220.05" width="7.26" height="12.66" fill="#FFFFFF"/>
<rect x="119.14" y="220.05" width="7.26" height="12.66" fill="#FFE5E1"/>
<rect x="125.4" y="220.05" width="7.26" height="12.66" fill="#FFFFFF"/>
<rect x="131.66" y="220.05" width="7.26" height="12.66" fill="#FFE5E1"/>
<rect x="137.92" y="220.05" width="13.52" height="12.66" fill="#FFFFFF"/>
<rect x="150.44" y="220.05" width="7.26" height="12.66" fill="#FFE5E1"/>
<rect x="156.7" y="220.05" width="7.26" height="12.66" fill="#DDD6F4"/>
<rect x="162.96" y="220.05" width="32.3" height="12.66" fill="#FFE5E1"/>
<rect x="194.26" y="220.05" width="7.26" height="12.66" fill="#FECAC2"/>
<rect x="200.52" y="220.05" width="7.26" height="12.66" fill="#FDA99B"/>
<rect x="206.78" y="220.05" width="7.26" height="12.66" fill="#FFE5E1"/>
<rect x="213.04" y="220.05" width="7.26" height="12.66" fill="#FDA99B"/>
<rect x="219.3" y="220.05" width="13.52" height="12.66" fill="#FB8672"/>
<rect x="231.82" y="220.05" width="7.26" height="12.66" fill="#FECAC2"/>
<rect x="238.08" y="220.05" width="7.26" height="12.66" fill="#FDA99B"/>
<rect x="244.34" y="220.05" width="7.26" height="12.66" fill="#FECAC2"/>
<rect x="250.6" y="220.05" width="13.52" height="12.66" fill="#FB8672"/>
<rect x="263.12" y="220.05" width="7.26" height="12.66" fill="#EE6549"/>
<rect x="269.38" y="220.05" width="7.26" height="12.66" fill="#FDA99B"/>
<rect x="275.64" y="220.05" width="6.26" height="12.66" fill="#FB8672"/>
<rect x="0.2" y="231.71" width="7.26" height="12.66" fill="#3A3499"/>
<rect x="6.46" y="231.71" width="13.52" height="12.66" fill="#434AA3"/>
<rect x="18.98" y="231.71" width="7.26" height="12.66" fill="#2C2671"/>
<rect x="25.24" y="231.71" width="7.26" height="12.66" fill="#514FA9"/>
<rect x="31.5" y="231.71" width="7.26" height="12.66" fill="#6E64B9"/>
<rect x="37.76" y="231.71" width="7.26" height="12.66" fill="#4040A0"/>
<rect x="44.02" y="231.71" width="7.26" height="12.66" fill="#6E64B9"/>
<rect x="50.28" y="231.71" width="7.26" height="12.66" fill="#A89EDD"/>
<rect x="56.54" y="231.71" width="13.52" height="12.66" fill="#DDD6F4"/>
<rect x="69.06" y="231.71" width="7.26" height="12.66" fill="#6E64B9"/>
<rect x="75.32" y="231.71" width="7.26" height="12.66" fill="#FECAC2"/>
<rect x="81.58" y="231.71" width="7.26" height="12.66" fill="#FFFFFF"/>
<rect x="87.84" y="231.71" width="7.26" height="12.66" fill="#FFE5E1"/>
<rect x="94.1" y="231.71" width="7.26" height="12.66" fill="#FFFFFF"/>
<rect x="100.36" y="231.71" width="7.26" height="12.66" fill="#A89EDD"/>
<rect x="106.62" y="231.71" width="19.78" height="12.66" fill="#DDD6F4"/>
<rect x="125.4" y="231.71" width="7.26" height="12.66" fill="#FFE5E1"/>
<rect x="131.66" y="231.71" width="19.78" height="12.66" fill="#FFFFFF"/>
<rect x="150.44" y="231.71" width="7.26" height="12.66" fill="#FFE5E1"/>
<rect x="156.7" y="231.71" width="13.52" height="12.66" fill="#FFFFFF"/>
<rect x="169.22" y="231.71" width="7.26" height="12.66" fill="#FECAC2"/>
<rect x="175.48" y="231.71" width="13.52" height="12.66" fill="#FFE5E1"/>
<rect x="188" y="231.71" width="7.26" height="12.66" fill="#FECAC2"/>
<rect x="194.26" y="231.71" width="7.26" height="12.66" fill="#FDA99B"/>
<rect x="200.52" y="231.71" width="13.52" height="12.66" fill="#FFE5E1"/>
<rect x="213.04" y="231.71" width="7.26" height="12.66" fill="#FDA99B"/>
<rect x="219.3" y="231.71" width="7.26" height="12.66" fill="#FB8672"/>
<rect x="225.56" y="231.71" width="7.26" height="12.66" fill="#FDA99B"/>
<rect x="231.82" y="231.71" width="7.26" height="12.66" fill="#FB8672"/>
<rect x="238.08" y="231.71" width="7.26" height="12.66" fill="#FDA99B"/>
<rect x="244.34" y="231.71" width="19.78" height="12.66" fill="#FB8672"/>
<rect x="263.12" y="231.71" width="7.26" height="12.66" fill="#EE6549"/>
<rect x="269.38" y="231.71" width="7.26" height="12.66" fill="#FB8672"/>
<rect x="275.64" y="231.71" width="6.26" height="12.66" fill="#EE6549"/>
<rect x="0.2" y="243.37" width="7.26" height="12.66" fill="#2C2671"/>
<rect x="6.46" y="243.37" width="7.26" height="12.66" fill="#3A3499"/>
<rect x="12.72" y="243.37" width="7.26" height="12.66" fill="#434AA3"/>
<rect x="18.98" y="243.37" width="7.26" height="12.66" fill="#3A3499"/>
<rect x="25.24" y="243.37" width="19.78" height="12.66" fill="#434AA3"/>
<rect x="44.02" y="243.37" width="7.26" height="12.66" fill="#DDD6F4"/>
<rect x="50.28" y="243.37" width="7.26" height="12.66" fill="#6E64B9"/>
<rect x="56.54" y="243.37" width="7.26" height="12.66" fill="#FFE5E1"/>
<rect x="62.8" y="243.37" width="7.26" height="12.66" fill="#FFFFFF"/>
<rect x="69.06" y="243.37" width="7.26" height="12.66" fill="#A89EDD"/>
<rect x="75.32" y="243.37" width="13.52" height="12.66" fill="#DDD6F4"/>
<rect x="87.84" y="243.37" width="7.26" height="12.66" fill="#A89EDD"/>
<rect x="94.1" y="243.37" width="7.26" height="12.66" fill="#FFFFFF"/>
<rect x="100.36" y="243.37" width="7.26" height="12.66" fill="#FFE5E1"/>
<rect x="106.62" y="243.37" width="7.26" height="12.66" fill="#A89EDD"/>
<rect x="112.88" y="243.37" width="13.52" height="12.66" fill="#DDD6F4"/>
<rect x="125.4" y="243.37" width="7.26" height="12.66" fill="#FECAC2"/>
<rect x="131.66" y="243.37" width="7.26" height="12.66" fill="#A89EDD"/>
<rect x="137.92" y="243.37" width="7.26" height="12.66" fill="#FFE5E1"/>
<rect x="144.18" y="243.37" width="7.26" height="12.66" fill="#DDD6F4"/>
<rect x="150.44" y="243.37" width="13.52" height="12.66" fill="#FECAC2"/>
<rect x="162.96" y="243.37" width="7.26" height="12.66" fill="#FFE5E1"/>
<rect x="169.22" y="243.37" width="7.26" height="12.66" fill="#FECAC2"/>
<rect x="175.48" y="243.37" width="7.26" height="12.66" fill="#DDD6F4"/>
<rect x="181.74" y="243.37" width="7.26" height="12.66" fill="#FFE5E1"/>
<rect x="188" y="243.37" width="13.52" height="12.66" fill="#FDA99B"/>
<rect x="200.52" y="243.37" width="7.26" height="12.66" fill="#FFE5E1"/>
<rect x="206.78" y="243.37" width="7.26" height="12.66" fill="#FB8672"/>
<rect x="213.04" y="243.37" width="7.26" height="12.66" fill="#FECAC2"/>
<rect x="219.3" y="243.37" width="7.26" height="12.66" fill="#FDA99B"/>
<rect x="225.56" y="243.37" width="7.26" height="12.66" fill="#FECAC2"/>
<rect x="231.82" y="243.37" width="7.26" height="12.66" fill="#E85038"/>
<rect x="238.08" y="243.37" width="13.52" height="12.66" fill="#FDA99B"/>
<rect x="250.6" y="243.37" width="7.26" height="12.66" fill="#FECAC2"/>
<rect x="256.86" y="243.37" width="7.26" height="12.66" fill="#FDA99B"/>
<rect x="263.12" y="243.37" width="7.26" height="12.66" fill="#EE6549"/>
<rect x="269.38" y="243.37" width="7.26" height="12.66" fill="#FB8672"/>
<rect x="275.64" y="243.37" width="6.26" height="12.66" fill="#EE6549"/>
<rect x="0.2" y="255.03" width="7.26" height="12.66" fill="#4040A0"/>
<rect x="6.46" y="255.03" width="19.78" height="12.66" fill="#434AA3"/>
<rect x="25.24" y="255.03" width="7.26" height="12.66" fill="#A89EDD"/>
<rect x="31.5" y="255.03" width="7.26" height="12.66" fill="#514FA9"/>
<rect x="37.76" y="255.03" width="13.52" height="12.66" fill="#FFE5E1"/>
<rect x="50.28" y="255.03" width="7.26" height="12.66" fill="#6E64B9"/>
<rect x="56.54" y="255.03" width="7.26" height="12.66" fill="#434AA3"/>
<rect x="62.8" y="255.03" width="7.26" height="12.66" fill="#FFE5E1"/>
<rect x="69.06" y="255.03" width="7.26" height="12.66" fill="#FDA99B"/>
<rect x="75.32" y="255.03" width="7.26" height="12.66" fill="#4040A0"/>
<rect x="81.58" y="255.03" width="7.26" height="12.66" fill="#DDD6F4"/>
<rect x="87.84" y="255.03" width="7.26" height="12.66" fill="#434AA3"/>
<rect x="94.1" y="255.03" width="7.26" height="12.66" fill="#6E64B9"/>
<rect x="100.36" y="255.03" width="13.52" height="12.66" fill="#DDD6F4"/>
<rect x="112.88" y="255.03" width="7.26" height="12.66" fill="#A89EDD"/>
<rect x="119.14" y="255.03" width="13.52" height="12.66" fill="#DDD6F4"/>
<rect x="131.66" y="255.03" width="7.26" height="12.66" fill="#A89EDD"/>
<rect x="137.92" y="255.03" width="7.26" height="12.66" fill="#FFE5E1"/>
<rect x="144.18" y="255.03" width="19.78" height="12.66" fill="#DDD6F4"/>
<rect x="162.96" y="255.03" width="7.26" height="12.66" fill="#FFE5E1"/>
<rect x="169.22" y="255.03" width="7.26" height="12.66" fill="#FDA99B"/>
<rect x="175.48" y="255.03" width="7.26" height="12.66" fill="#FFFFFF"/>
<rect x="181.74" y="255.03" width="7.26" height="12.66" fill="#FB8672"/>
<rect x="188" y="255.03" width="7.26" height="12.66" fill="#FECAC2"/>
<rect x="194.26" y="255.03" width="19.78" height="12.66" fill="#FFE5E1"/>
<rect x="213.04" y="255.03" width="7.26" height="12.66" fill="#FDA99B"/>
<rect x="219.3" y="255.03" width="7.26" height="12.66" fill="#FB8672"/>
<rect x="225.56" y="255.03" width="7.26" height="12.66" fill="#FDA99B"/>
<rect x="231.82" y="255.03" width="7.26" height="12.66" fill="#FB8672"/>
<rect x="238.08" y="255.03" width="7.26" height="12.66" fill="#FECAC2"/>
<rect x="244.34" y="255.03" width="13.52" height="12.66" fill="#FDA99B"/>
<rect x="256.86" y="255.03" width="13.52" height="12.66" fill="#EE6549"/>
<rect x="269.38" y="255.03" width="7.26" height="12.66" fill="#E4432F"/>
<rect x="275.64" y="255.03" width="6.26" height="12.66" fill="#EE6549"/>
<rect x="0.2" y="266.7" width="7.26" height="12.66" fill="#382C93"/>
<rect x="6.46" y="266.7" width="13.52" height="12.66" fill="#4040A0"/>
<rect x="18.98" y="266.7" width="7.26" height="12.66" fill="#6E64B9"/>
<rect x="25.24" y="266.7" width="7.26" height="12.66" fill="#DDD6F4"/>
<rect x="31.5" y="266.7" width="7.26" height="12.66" fill="#FFFFFF"/>
<rect x="37.76" y="266.7" width="7.26" height="12.66" fill="#A89EDD"/>
<rect x="44.02" y="266.7" width="7.26" height="12.66" fill="#382C93"/>
<rect x="50.28" y="266.7" width="13.52" height="12.66" fill="#FFE5E1"/>
<rect x="62.8" y="266.7" width="7.26" height="12.66" fill="#DDD6F4"/>
<rect x="69.06" y="266.7" width="7.26" height="12.66" fill="#382C93"/>
<rect x="75.32" y="266.7" width="7.26" height="12.66" fill="#A89EDD"/>
<rect x="81.58" y="266.7" width="7.26" height="12.66" fill="#FFFFFF"/>
<rect x="87.84" y="266.7" width="7.26" height="12.66" fill="#434AA3"/>
<rect x="94.1" y="266.7" width="7.26" height="12.66" fill="#FFE5E1"/>
<rect x="100.36" y="266.7" width="7.26" height="12.66" fill="#DDD6F4"/>
<rect x="106.62" y="266.7" width="13.52" height="12.66" fill="#FFFFFF"/>
<rect x="119.14" y="266.7" width="7.26" height="12.66" fill="#FFE5E1"/>
<rect x="125.4" y="266.7" width="7.26" height="12.66" fill="#FECAC2"/>
<rect x="131.66" y="266.7" width="13.52" height="12.66" fill="#FFFFFF"/>
<rect x="144.18" y="266.7" width="7.26" height="12.66" fill="#FECAC2"/>
<rect x="150.44" y="266.7" width="7.26" height="12.66" fill="#FFFFFF"/>
<rect x="156.7" y="266.7" width="7.26" height="12.66" fill="#A89EDD"/>
<rect x="162.96" y="266.7" width="13.52" height="12.66" fill="#FFFFFF"/>
<rect x="175.48" y="266.7" width="7.26" height="12.66" fill="#FFE5E1"/>
<rect x="181.74" y="266.7" width="7.26" height="12.66" fill="#FB8672"/>
<rect x="188" y="266.7" width="7.26" height="12.66" fill="#FDA99B"/>
<rect x="194.26" y="266.7" width="7.26" height="12.66" fill="#DDD6F4"/>
<rect x="200.52" y="266.7" width="19.78" height="12.66" fill="#FECAC2"/>
<rect x="219.3" y="266.7" width="13.52" height="12.66" fill="#FDA99B"/>
<rect x="231.82" y="266.7" width="7.26" height="12.66" fill="#EE6549"/>
<rect x="238.08" y="266.7" width="19.78" height="12.66" fill="#FB8672"/>
<rect x="256.86" y="266.7" width="7.26" height="12.66" fill="#FDA99B"/>
<rect x="263.12" y="266.7" width="7.26" height="12.66" fill="#FB8672"/>
<rect x="269.38" y="266.7" width="7.26" height="12.66" fill="#FFE5E1"/>
<rect x="275.64" y="266.7" width="6.26" height="12.66" fill="#FDA99B"/>
<rect x="0.2" y="278.36" width="7.26" height="12.66" fill="#2C2671"/>
<rect x="6.46" y="278.36" width="7.26" height="12.66" fill="#3A3499"/>
<rect x="12.72" y="278.36" width="13.52" height="12.66" fill="#4040A0"/>
<rect x="25.24" y="278.36" width="7.26" height="12.66" fill="#514FA9"/>
<rect x="31.5" y="278.36" width="26.04" height="12.66" fill="#A89EDD"/>
<rect x="56.54" y="278.36" width="7.26" height="12.66" fill="#FFE5E1"/>
<rect x="62.8" y="278.36" width="7.26" height="12.66" fill="#6E64B9"/>
<rect x="69.06" y="278.36" width="7.26" height="12.66" fill="#FFFFFF"/>
<rect x="75.32" y="278.36" width="7.26" height="12.66" fill="#6E64B9"/>
<rect x="81.58" y="278.36" width="7.26" height="12.66" fill="#A89EDD"/>
<rect x="87.84" y="278.36" width="7.26" height="12.66" fill="#FFE5E1"/>
<rect x="94.1" y="278.36" width="7.26" height="12.66" fill="#DDD6F4"/>
<rect x="100.36" y="278.36" width="7.26" height="12.66" fill="#FFFFFF"/>
<rect x="106.62" y="278.36" width="19.78" height="12.66" fill="#DDD6F4"/>
<rect x="125.4" y="278.36" width="7.26" height="12.66" fill="#FECAC2"/>
<rect x="131.66" y="278.36" width="7.26" height="12.66" fill="#FFFFFF"/>
<rect x="137.92" y="278.36" width="7.26" height="12.66" fill="#DDD6F4"/>
<rect x="144.18" y="278.36" width="7.26" height="12.66" fill="#A89EDD"/>
<rect x="150.44" y="278.36" width="13.52" height="12.66" fill="#FFE5E1"/>
<rect x="162.96" y="278.36" width="7.26" height="12.66" fill="#E85038"/>
<rect x="169.22" y="278.36" width="7.26" height="12.66" fill="#FFFFFF"/>
<rect x="175.48" y="278.36" width="7.26" height="12.66" fill="#FFE5E1"/>
<rect x="181.74" y="278.36" width="7.26" height="12.66" fill="#DDD6F4"/>
<rect x="188" y="278.36" width="13.52" height="12.66" fill="#FFE5E1"/>
<rect x="200.52" y="278.36" width="7.26" height="12.66" fill="#FECAC2"/>
<rect x="206.78" y="278.36" width="7.26" height="12.66" fill="#FFFFFF"/>
<rect x="213.04" y="278.36" width="7.26" height="12.66" fill="#FDA99B"/>
<rect x="219.3" y="278.36" width="13.52" height="12.66" fill="#FECAC2"/>
<rect x="231.82" y="278.36" width="7.26" height="12.66" fill="#FDA99B"/>
<rect x="238.08" y="278.36" width="7.26" height="12.66" fill="#FECAC2"/>
<rect x="244.34" y="278.36" width="7.26" height="12.66" fill="#FDA99B"/>
<rect x="250.6" y="278.36" width="13.52" height="12.66" fill="#FB8672"/>
<rect x="263.12" y="278.36" width="13.52" height="12.66" fill="#FDA99B"/>
<rect x="275.64" y="278.36" width="6.26" height="12.66" fill="#DC2A1A"/>
<rect x="0.2" y="290.02" width="7.26" height="12.66" fill="#4040A0"/>
<rect x="6.46" y="290.02" width="7.26" height="12.66" fill="#382C93"/>
<rect x="12.72" y="290.02" width="7.26" height="12.66" fill="#4040A0"/>
<rect x="18.98" y="290.02" width="13.52" height="12.66" fill="#6E64B9"/>
<rect x="31.5" y="290.02" width="7.26" height="12.66" fill="#514FA9"/>
<rect x="37.76" y="290.02" width="7.26" height="12.66" fill="#A89EDD"/>
<rect x="44.02" y="290.02" width="13.52" height="12.66" fill="#6E64B9"/>
<rect x="56.54" y="290.02" width="7.26" height="12.66" fill="#514FA9"/>
<rect x="62.8" y="290.02" width="7.26" height="12.66" fill="#EE6549"/>
<rect x="69.06" y="290.02" width="7.26" height="12.66" fill="#6E64B9"/>
<rect x="75.32" y="290.02" width="7.26" height="12.66" fill="#FFE5E1"/>
<rect x="81.58" y="290.02" width="7.26" height="12.66" fill="#DDD6F4"/>
<rect x="87.84" y="290.02" width="7.26" height="12.66" fill="#514FA9"/>
<rect x="94.1" y="290.02" width="7.26" height="12.66" fill="#DDD6F4"/>
<rect x="100.36" y="290.02" width="7.26" height="12.66" fill="#FFFFFF"/>
<rect x="106.62" y="290.02" width="7.26" height="12.66" fill="#FFE5E1"/>
<rect x="112.88" y="290.02" width="7.26" height="12.66" fill="#FB8672"/>
<rect x="119.14" y="290.02" width="7.26" height="12.66" fill="#DDD6F4"/>
<rect x="125.4" y="290.02" width="7.26" height="12.66" fill="#A89EDD"/>
<rect x="131.66" y="290.02" width="7.26" height="12.66" fill="#514FA9"/>
<rect x="137.92" y="290.02" width="13.52" height="12.66" fill="#FFFFFF"/>
<rect x="150.44" y="290.02" width="7.26" height="12.66" fill="#DDD6F4"/>
<rect x="156.7" y="290.02" width="7.26" height="12.66" fill="#FFFFFF"/>
<rect x="162.96" y="290.02" width="7.26" height="12.66" fill="#FECAC2"/>
<rect x="169.22" y="290.02" width="13.52" height="12.66" fill="#FFE5E1"/>
<rect x="181.74" y="290.02" width="13.52" height="12.66" fill="#FECAC2"/>
<rect x="194.26" y="290.02" width="7.26" height="12.66" fill="#FFFFFF"/>
<rect x="200.52" y="290.02" width="7.26" height="12.66" fill="#FFE5E1"/>
<rect x="206.78" y="290.02" width="7.26" height="12.66" fill="#FECAC2"/>
<rect x="213.04" y="290.02" width="7.26" height="12.66" fill="#FB8672"/>
<rect x="219.3" y="290.02" width="7.26" height="12.66" fill="#FECAC2"/>
<rect x="225.56" y="290.02" width="7.26" height="12.66" fill="#FB8672"/>
<rect x="231.82" y="290.02" width="7.26" height="12.66" fill="#FECAC2"/>
<rect x="238.08" y="290.02" width="13.52" height="12.66" fill="#FDA99B"/>
<rect x="250.6" y="290.02" width="7.26" height="12.66" fill="#FECAC2"/>
<rect x="256.86" y="290.02" width="7.26" height="12.66" fill="#FB8672"/>
<rect x="263.12" y="290.02" width="7.26" height="12.66" fill="#FDA99B"/>
<rect x="269.38" y="290.02" width="7.26" height="12.66" fill="#E4432F"/>
<rect x="275.64" y="290.02" width="6.26" height="12.66" fill="#FB8672"/>
<rect x="0.2" y="301.68" width="7.26" height="12.66" fill="#382C93"/>
<rect x="6.46" y="301.68" width="7.26" height="12.66" fill="#3A3499"/>
<rect x="12.72" y="301.68" width="13.52" height="12.66" fill="#4040A0"/>
<rect x="25.24" y="301.68" width="7.26" height="12.66" fill="#6E64B9"/>
<rect x="31.5" y="301.68" width="13.52" height="12.66" fill="#434AA3"/>
<rect x="44.02" y="301.68" width="7.26" height="12.66" fill="#A89EDD"/>
<rect x="50.28" y="301.68" width="7.26" height="12.66" fill="#DDD6F4"/>
<rect x="56.54" y="301.68" width="7.26" height="12.66" fill="#6E64B9"/>
<rect x="62.8" y="301.68" width="7.26" height="12.66" fill="#DDD6F4"/>
<rect x="69.06" y="301.68" width="7.26" height="12.66" fill="#A89EDD"/>
<rect x="75.32" y="301.68" width="13.52" height="12.66" fill="#DDD6F4"/>
<rect x="87.84" y="301.68" width="7.26" height="12.66" fill="#A89EDD"/>
<rect x="94.1" y="301.68" width="7.26" height="12.66" fill="#FFFFFF"/>
<rect x="100.36" y="301.68" width="13.52" height="12.66" fill="#DDD6F4"/>
<rect x="112.88" y="301.68" width="7.26" height="12.66" fill="#FFFFFF"/>
<rect x="119.14" y="301.68" width="7.26" height="12.66" fill="#DDD6F4"/>
<rect x="125.4" y="301.68" width="7.26" height="12.66" fill="#A89EDD"/>
<rect x="131.66" y="301.68" width="7.26" height="12.66" fill="#FFFFFF"/>
<rect x="137.92" y="301.68" width="7.26" height="12.66" fill="#FFE5E1"/>
<rect x="144.18" y="301.68" width="7.26" height="12.66" fill="#FFFFFF"/>
<rect x="150.44" y="301.68" width="7.26" height="12.66" fill="#FFE5E1"/>
<rect x="156.7" y="301.68" width="13.52" height="12.66" fill="#FFFFFF"/>
<rect x="169.22" y="301.68" width="13.52" height="12.66" fill="#FFE5E1"/>
<rect x="181.74" y="301.68" width="7.26" height="12.66" fill="#FECAC2"/>
<rect x="188" y="301.68" width="7.26" height="12.66" fill="#FFE5E1"/>
<rect x="194.26" y="301.68" width="19.78" height="12.66" fill="#FECAC2"/>
<rect x="213.04" y="301.68" width="19.78" height="12.66" fill="#FB8672"/>
<rect x="231.82" y="301.68" width="13.52" height="12.66" fill="#FDA99B"/>
<rect x="244.34" y="301.68" width="26.04" height="12.66" fill="#FB8672"/>
<rect x="269.38" y="301.68" width="12.52" height="12.66" fill="#E85038"/>
<rect x="0.2" y="313.34" width="7.26" height="11.66" fill="#3A3499"/>
<rect x="6.46" y="313.34" width="7.26" height="11.66" fill="#514FA9"/>
<rect x="12.72" y="313.34" width="7.26" height="11.66" fill="#434AA3"/>
<rect x="18.98" y="313.34" width="7.26" height="11.66" fill="#4040A0"/>
<rect x="25.24" y="313.34" width="7.26" height="11.66" fill="#A89EDD"/>
<rect x="31.5" y="313.34" width="7.26" height="11.66" fill="#514FA9"/>
<rect x="37.76" y="313.34" width="7.26" height="11.66" fill="#DDD6F4"/>
<rect x="44.02" y="313.34" width="7.26" height="11.66" fill="#3A3499"/>
<rect x="50.28" y="313.34" width="7.26" height="11.66" fill="#DDD6F4"/>
<rect x="56.54" y="313.34" width="7.26" height="11.66" fill="#434AA3"/>
<rect x="62.8" y="313.34" width="7.26" height="11.66" fill="#514FA9"/>
<rect x="69.06" y="313.34" width="7.26" height="11.66" fill="#FFE5E1"/>
<rect x="75.32" y="313.34" width="7.26" height="11.66" fill="#6E64B9"/>
<rect x="81.58" y="313.34" width="7.26" height="11.66" fill="#DDD6F4"/>
<rect x="87.84" y="313.34" width="7.26" height="11.66" fill="#FECAC2"/>
<rect x="94.1" y="313.34" width="7.26" height="11.66" fill="#A89EDD"/>
<rect x="100.36" y="313.34" width="7.26" height="11.66" fill="#FFE5E1"/>
<rect x="106.62" y="313.34" width="7.26" height="11.66" fill="#A89EDD"/>
<rect x="112.88" y="313.34" width="7.26" height="11.66" fill="#DDD6F4"/>
<rect x="119.14" y="313.34" width="7.26" height="11.66" fill="#FFE5E1"/>
<rect x="125.4" y="313.34" width="7.26" height="11.66" fill="#A89EDD"/>
<rect x="131.66" y="313.34" width="7.26" height="11.66" fill="#FFFFFF"/>
<rect x="137.92" y="313.34" width="13.52" height="11.66" fill="#DDD6F4"/>
<rect x="150.44" y="313.34" width="7.26" height="11.66" fill="#FFE5E1"/>
<rect x="156.7" y="313.34" width="7.26" height="11.66" fill="#DDD6F4"/>
<rect x="162.96" y="313.34" width="13.52" height="11.66" fill="#FDA99B"/>
<rect x="175.48" y="313.34" width="7.26" height="11.66" fill="#FFFFFF"/>
<rect x="181.74" y="313.34" width="7.26" height="11.66" fill="#FECAC2"/>
<rect x="188" y="313.34" width="7.26" height="11.66" fill="#FDA99B"/>
<rect x="194.26" y="313.34" width="7.26" height="11.66" fill="#DDD6F4"/>
<rect x="200.52" y="313.34" width="7.26" height="11.66" fill="#FFFFFF"/>
<rect x="206.78" y="313.34" width="7.26" height="11.66" fill="#FFE5E1"/>
<rect x="213.04" y="313.34" width="13.52" height="11.66" fill="#FB8672"/>
<rect x="225.56" y="313.34" width="7.26" height="11.66" fill="#FECAC2"/>
<rect x="231.82" y="313.34" width="13.52" height="11.66" fill="#FB8672"/>
<rect x="244.34" y="313.34" width="7.26" height="11.66" fill="#EE6549"/>
<rect x="250.6" y="313.34" width="7.26" height="11.66" fill="#FFE5E1"/>
<rect x="256.86" y="313.34" width="13.52" height="11.66" fill="#EE6549"/>
<rect x="269.38" y="313.34" width="7.26" height="11.66" fill="#E85038"/>
<rect x="275.64" y="313.34" width="6.26" height="11.66" fill="#FB8672"/>
</g>
<text x="284.7" y="52.6" font-size="8.4" textLength="64.6" lengthAdjust="spacingAndGlyphs" fill="#111">CD8A localization</text>
<text x="284.7" y="65.93" font-size="8.3" textLength="36.2" lengthAdjust="spacingAndGlyphs" fill="#111">ADAMTS2</text>
<text x="284.7" y="77.59" font-size="8.3" textLength="16.1" lengthAdjust="spacingAndGlyphs" fill="#111">BGN</text>
<text x="284.7" y="89.25" font-size="8.3" textLength="32.5" lengthAdjust="spacingAndGlyphs" fill="#111">CLEC11A</text>
<text x="284.7" y="100.91" font-size="8.3" textLength="33.5" lengthAdjust="spacingAndGlyphs" fill="#111">COL16A1</text>
<text x="284.7" y="112.57" font-size="8.3" textLength="29" lengthAdjust="spacingAndGlyphs" fill="#111">COL1A1</text>
<text x="284.7" y="124.23" font-size="8.3" textLength="29" lengthAdjust="spacingAndGlyphs" fill="#111">COL1A2</text>
<text x="284.7" y="135.9" font-size="8.3" textLength="29" lengthAdjust="spacingAndGlyphs" fill="#111">COL3A1</text>
<text x="284.7" y="147.56" font-size="8.3" textLength="29" lengthAdjust="spacingAndGlyphs" fill="#111">COL4A1</text>
<text x="284.7" y="159.22" font-size="8.3" textLength="29" lengthAdjust="spacingAndGlyphs" fill="#111">COL4A2</text>
<text x="284.7" y="170.88" font-size="8.3" textLength="29" lengthAdjust="spacingAndGlyphs" fill="#111">COL5A1</text>
<text x="284.7" y="182.54" font-size="8.3" textLength="29" lengthAdjust="spacingAndGlyphs" fill="#111">COL6A3</text>
<text x="284.7" y="194.2" font-size="8.3" textLength="23.9" lengthAdjust="spacingAndGlyphs" fill="#111">DACT3</text>
<text x="284.7" y="205.86" font-size="8.3" textLength="30" lengthAdjust="spacingAndGlyphs" fill="#111">EMILIN1</text>
<text x="284.7" y="217.52" font-size="8.3" textLength="18.8" lengthAdjust="spacingAndGlyphs" fill="#111">FBN1</text>
<text x="284.7" y="229.18" font-size="8.3" textLength="24.3" lengthAdjust="spacingAndGlyphs" fill="#111">FNDC1</text>
<text x="284.7" y="240.84" font-size="8.3" textLength="20.8" lengthAdjust="spacingAndGlyphs" fill="#111">FSTL1</text>
<text x="284.7" y="252.5" font-size="8.3" textLength="20.2" lengthAdjust="spacingAndGlyphs" fill="#111">GGT5</text>
<text x="284.7" y="264.17" font-size="8.3" textLength="18.4" lengthAdjust="spacingAndGlyphs" fill="#111">HEYL</text>
<text x="284.7" y="275.83" font-size="8.3" textLength="24.3" lengthAdjust="spacingAndGlyphs" fill="#111">KCNE4</text>
<text x="284.7" y="287.49" font-size="8.3" textLength="21.5" lengthAdjust="spacingAndGlyphs" fill="#111">MRC2</text>
<text x="284.7" y="299.15" font-size="8.3" textLength="30" lengthAdjust="spacingAndGlyphs" fill="#111">PDGFRB</text>
<text x="284.7" y="310.81" font-size="8.3" textLength="22.9" lengthAdjust="spacingAndGlyphs" fill="#111">SPARC</text>
<text x="284.7" y="322.47" font-size="8.3" textLength="38.2" lengthAdjust="spacingAndGlyphs" fill="#111">TMEM119</text>
<text x="336.4" y="94.5" font-size="8.4" textLength="64.6" lengthAdjust="spacingAndGlyphs" fill="#111">CD8A localization</text>
<rect x="336.1" y="97.9" width="13.7" height="13.4" fill="#5C1A9B"/>
<rect x="336.1" y="111.1" width="13.7" height="13.4" fill="#F06445"/>
<text x="352.7" y="107.5" font-size="8.4" textLength="49.8" lengthAdjust="spacingAndGlyphs" fill="#111">Intra-tumoral</text>
<text x="352.7" y="120.9" font-size="8.4" textLength="46.8" lengthAdjust="spacingAndGlyphs" fill="#111">Peri-tumoral</text>
<rect x="338" y="161.9" width="9.9" height="7.71" fill="#DC2A1A"/>
<rect x="338" y="168.61" width="9.9" height="7.71" fill="#DC2A1A"/>
<rect x="338" y="175.33" width="9.9" height="7.71" fill="#E03524"/>
<rect x="338" y="182.04" width="9.9" height="7.71" fill="#E4432F"/>
<rect x="338" y="188.76" width="9.9" height="7.71" fill="#E85038"/>
<rect x="338" y="195.47" width="9.9" height="7.71" fill="#EE6549"/>
<rect x="338" y="202.19" width="9.9" height="7.71" fill="#FB8672"/>
<rect x="338" y="208.9" width="9.9" height="7.71" fill="#FDA99B"/>
<rect x="338" y="215.61" width="9.9" height="7.71" fill="#FECAC2"/>
<rect x="338" y="222.33" width="9.9" height="7.71" fill="#FFE5E1"/>
<rect x="338" y="229.04" width="9.9" height="7.71" fill="#FFFFFF"/>
<rect x="338" y="235.76" width="9.9" height="7.71" fill="#DDD6F4"/>
<rect x="338" y="242.47" width="9.9" height="7.71" fill="#A89EDD"/>
<rect x="338" y="249.19" width="9.9" height="7.71" fill="#6E64B9"/>
<rect x="338" y="255.9" width="9.9" height="7.71" fill="#514FA9"/>
<rect x="338" y="262.61" width="9.9" height="7.71" fill="#434AA3"/>
<rect x="338" y="269.33" width="9.9" height="7.71" fill="#4040A0"/>
<rect x="338" y="276.04" width="9.9" height="7.71" fill="#3A3499"/>
<rect x="338" y="282.76" width="9.9" height="7.71" fill="#382C93"/>
<rect x="338" y="289.47" width="9.9" height="7.71" fill="#332985"/>
<rect x="338" y="296.19" width="9.9" height="6.71" fill="#2C2671"/>
<text x="351.4" y="167.3" font-size="8.6" fill="#111">3</text>
<text x="351.4" y="190" font-size="8.6" fill="#111">2</text>
<text x="351.4" y="213.2" font-size="8.6" fill="#111">1</text>
<text x="351.4" y="236.1" font-size="8.6" fill="#111">0</text>
<text x="351.4" y="259.1" font-size="8.6" fill="#111">−1</text>
<text x="351.4" y="281.9" font-size="8.6" fill="#111">−2</text>
<text x="351.4" y="304.1" font-size="8.6" fill="#111">−3</text>
<text x="418.7" y="22.7" font-size="10.5" textLength="7.1" lengthAdjust="spacingAndGlyphs" fill="#111">ii.</text>
<rect x="443.2" y="20.5" width="101.3" height="130.4" fill="none" stroke="#000" stroke-width="0.8"/>
<line x1="437.6" y1="25.4" x2="443.2" y2="25.4" stroke="#000" stroke-width="0.8"/>
<text x="435.7" y="25.4" font-size="8.9" text-anchor="middle" transform="rotate(-90 435.7 25.4)" fill="#111">2</text>
<line x1="437.6" y1="55.45" x2="443.2" y2="55.45" stroke="#000" stroke-width="0.8"/>
<text x="435.7" y="55.45" font-size="8.9" text-anchor="middle" transform="rotate(-90 435.7 55.45)" fill="#111">1</text>
<line x1="437.6" y1="85.5" x2="443.2" y2="85.5" stroke="#000" stroke-width="0.8"/>
<text x="435.7" y="85.5" font-size="8.9" text-anchor="middle" transform="rotate(-90 435.7 85.5)" fill="#111">0</text>
<line x1="437.6" y1="115.55" x2="443.2" y2="115.55" stroke="#000" stroke-width="0.8"/>
<text x="435.7" y="115.55" font-size="8.9" text-anchor="middle" transform="rotate(-90 435.7 115.55)" fill="#111">−1</text>
<line x1="437.6" y1="145.6" x2="443.2" y2="145.6" stroke="#000" stroke-width="0.8"/>
<text x="435.7" y="145.6" font-size="8.9" text-anchor="middle" transform="rotate(-90 435.7 145.6)" fill="#111">−2</text>
<text x="425.6" y="85.7" font-size="8.7" text-anchor="middle" transform="rotate(-90 425.6 85.7)" fill="#111">Module1 z−score</text>
<line x1="470.5" y1="85.8" x2="470.5" y2="56.35" stroke="#000" stroke-width="0.9" stroke-dasharray="3.8 2.8"/>
<line x1="470.5" y1="112.24" x2="470.5" y2="148.3" stroke="#000" stroke-width="0.9" stroke-dasharray="3.8 2.8"/>
<line x1="461.05" y1="56.35" x2="479.95" y2="56.35" stroke="#000" stroke-width="0.9"/>
<line x1="461.05" y1="148.3" x2="479.95" y2="148.3" stroke="#000" stroke-width="0.9"/>
<rect x="451.6" y="85.8" width="37.8" height="26.44" fill="#fff" stroke="#000" stroke-width="0.8"/>
<line x1="451.6" y1="95.42" x2="489.4" y2="95.42" stroke="#000" stroke-width="2.4"/>
<line x1="470.5" y1="150.9" x2="470.5" y2="156.5" stroke="#000" stroke-width="0.8"/>
<line x1="517.5" y1="56.05" x2="517.5" y2="38.62" stroke="#000" stroke-width="0.9" stroke-dasharray="3.8 2.8"/>
<line x1="517.5" y1="81.29" x2="517.5" y2="100.53" stroke="#000" stroke-width="0.9" stroke-dasharray="3.8 2.8"/>
<line x1="508.05" y1="38.62" x2="526.95" y2="38.62" stroke="#000" stroke-width="0.9"/>
<line x1="508.05" y1="100.53" x2="526.95" y2="100.53" stroke="#000" stroke-width="0.9"/>
<rect x="498.6" y="56.05" width="37.8" height="25.24" fill="#fff" stroke="#000" stroke-width="0.8"/>
<line x1="498.6" y1="71.38" x2="536.4" y2="71.38" stroke="#000" stroke-width="2.4"/>
<line x1="517.5" y1="150.9" x2="517.5" y2="156.5" stroke="#000" stroke-width="0.8"/>
<line x1="443.2" y1="85.5" x2="544.5" y2="85.5" stroke="#7488DC" stroke-width="1.1" stroke-dasharray="3.1 3.15"/>
<circle cx="461.68" cy="56.16" r="2.1" fill="#5068BE"/>
<circle cx="472.12" cy="58.13" r="2.1" fill="#5068BE"/>
<circle cx="478.43" cy="57.34" r="2.1" fill="#5068BE"/>
<circle cx="479.81" cy="69.56" r="2.1" fill="#5068BE"/>
<circle cx="472.91" cy="76.66" r="2.1" fill="#5068BE"/>
<circle cx="475.08" cy="81.39" r="2.1" fill="#5068BE"/>
<circle cx="464.04" cy="86.91" r="2.1" fill="#5068BE"/>
<circle cx="469.96" cy="86.91" r="2.1" fill="#5068BE"/>
<circle cx="475.08" cy="86.71" r="2.1" fill="#5068BE"/>
<circle cx="472.52" cy="92.82" r="2.1" fill="#5068BE"/>
<circle cx="469.96" cy="94.2" r="2.1" fill="#5068BE"/>
<circle cx="467.99" cy="95.97" r="2.1" fill="#5068BE"/>
<circle cx="476.46" cy="95.77" r="2.1" fill="#5068BE"/>
<circle cx="477.45" cy="97.75" r="2.1" fill="#5068BE"/>
<circle cx="476.07" cy="98.73" r="2.1" fill="#5068BE"/>
<circle cx="478.83" cy="99.72" r="2.1" fill="#5068BE"/>
<circle cx="462.66" cy="109.57" r="2.1" fill="#5068BE"/>
<circle cx="465.03" cy="112.92" r="2.1" fill="#5068BE"/>
<circle cx="473.11" cy="114.5" r="2.1" fill="#5068BE"/>
<circle cx="476.26" cy="117.06" r="2.1" fill="#5068BE"/>
<circle cx="469.56" cy="142.48" r="2.1" fill="#5068BE"/>
<circle cx="470.35" cy="145.44" r="2.1" fill="#5068BE"/>
<circle cx="462.27" cy="148.79" r="2.1" fill="#5068BE"/>
<circle cx="521.4" cy="38.42" r="2.1" fill="#5068BE"/>
<circle cx="509.37" cy="49.46" r="2.1" fill="#5068BE"/>
<circle cx="510.56" cy="51.82" r="2.1" fill="#5068BE"/>
<circle cx="515.88" cy="49.07" r="2.1" fill="#5068BE"/>
<circle cx="516.47" cy="56.75" r="2.1" fill="#5068BE"/>
<circle cx="515.88" cy="59.12" r="2.1" fill="#5068BE"/>
<circle cx="526.32" cy="57.93" r="2.1" fill="#5068BE"/>
<circle cx="525.14" cy="69.56" r="2.1" fill="#5068BE"/>
<circle cx="518.83" cy="70.55" r="2.1" fill="#5068BE"/>
<circle cx="522.38" cy="71.53" r="2.1" fill="#5068BE"/>
<circle cx="511.34" cy="71.14" r="2.1" fill="#5068BE"/>
<circle cx="514.5" cy="76.07" r="2.1" fill="#5068BE"/>
<circle cx="507.99" cy="78.43" r="2.1" fill="#5068BE"/>
<circle cx="516.47" cy="80.99" r="2.1" fill="#5068BE"/>
<circle cx="509.37" cy="82.37" r="2.1" fill="#5068BE"/>
<circle cx="517.26" cy="84.34" r="2.1" fill="#5068BE"/>
<circle cx="508.98" cy="90.26" r="2.1" fill="#5068BE"/>
<circle cx="508.98" cy="92.62" r="2.1" fill="#5068BE"/>
<circle cx="519.23" cy="101.1" r="2.1" fill="#5068BE"/>
<text x="445" y="166.7" font-size="8.6" textLength="47.6" lengthAdjust="spacingAndGlyphs" fill="#111">Intra-tumoral</text>
<text x="501.6" y="166.7" font-size="8.6" textLength="45.6" lengthAdjust="spacingAndGlyphs" fill="#111">Peri-tumoral</text>
<rect x="448.1" y="217.97" width="42.9" height="99.33" fill="#C5E4EF"/>
<text x="469.05" y="212.77" font-size="8.8" text-anchor="middle" textLength="8.7" lengthAdjust="spacingAndGlyphs" fill="#111">76</text>
<text x="451" y="328.2" font-size="8.8" textLength="35.2" lengthAdjust="spacingAndGlyphs" fill="#111">specificity</text>
<rect x="499.4" y="206.2" width="42.9" height="111.1" fill="#C5E4EF"/>
<text x="520.35" y="201" font-size="8.8" text-anchor="middle" textLength="8.7" lengthAdjust="spacingAndGlyphs" fill="#111">85</text>
<text x="502.3" y="328.2" font-size="8.8" textLength="35.2" lengthAdjust="spacingAndGlyphs" fill="#111">sensitivity</text>
<line x1="444.5" y1="317.3" x2="548" y2="317.3" stroke="#1a1a1a" stroke-width="1" stroke-dasharray="3.5 3.15"/>
<line x1="444.5" y1="251.95" x2="548" y2="251.95" stroke="#1a1a1a" stroke-width="1" stroke-dasharray="3.5 3.15"/>
<line x1="444.5" y1="186.6" x2="548" y2="186.6" stroke="#1a1a1a" stroke-width="1" stroke-dasharray="3.5 3.15"/>
<line x1="444.5" y1="186.6" x2="444.5" y2="317.3" stroke="#000" stroke-width="1"/>
<line x1="438.9" y1="317.3" x2="444.5" y2="317.3" stroke="#000" stroke-width="1"/>
<text x="437.5" y="317.3" font-size="9.2" text-anchor="middle" textLength="3.9" lengthAdjust="spacingAndGlyphs" transform="rotate(-90 437.5 317.3)" fill="#111">0</text>
<line x1="438.9" y1="291.16" x2="444.5" y2="291.16" stroke="#000" stroke-width="1"/>
<text x="437.5" y="291.16" font-size="9.2" text-anchor="middle" textLength="7.6" lengthAdjust="spacingAndGlyphs" transform="rotate(-90 437.5 291.16)" fill="#111">20</text>
<line x1="438.9" y1="265.02" x2="444.5" y2="265.02" stroke="#000" stroke-width="1"/>
<text x="437.5" y="265.02" font-size="9.2" text-anchor="middle" textLength="7.6" lengthAdjust="spacingAndGlyphs" transform="rotate(-90 437.5 265.02)" fill="#111">40</text>
<line x1="438.9" y1="238.88" x2="444.5" y2="238.88" stroke="#000" stroke-width="1"/>
<text x="437.5" y="238.88" font-size="9.2" text-anchor="middle" textLength="7.6" lengthAdjust="spacingAndGlyphs" transform="rotate(-90 437.5 238.88)" fill="#111">60</text>
<line x1="438.9" y1="212.74" x2="444.5" y2="212.74" stroke="#000" stroke-width="1"/>
<text x="437.5" y="212.74" font-size="9.2" text-anchor="middle" textLength="7.6" lengthAdjust="spacingAndGlyphs" transform="rotate(-90 437.5 212.74)" fill="#111">80</text>
<line x1="438.9" y1="186.6" x2="444.5" y2="186.6" stroke="#000" stroke-width="1"/>
<text x="437.5" y="186.6" font-size="9.2" text-anchor="middle" textLength="11.5" lengthAdjust="spacingAndGlyphs" transform="rotate(-90 437.5 186.6)" fill="#111">100</text>
<text x="426.6" y="254.45" font-size="8.8" text-anchor="middle" textLength="40.6" lengthAdjust="spacingAndGlyphs" transform="rotate(-90 426.6 254.45)" fill="#111">Percent (%)</text>
<text x="-0.8" y="357.4" font-size="16.5" fill="#000">b</text>
<text x="-0.6" y="375.2" font-size="10.6" fill="#111">i.</text>
<text x="142.6" y="387.7" font-size="11.3" text-anchor="middle" textLength="261.9" lengthAdjust="spacingAndGlyphs" fill="#111">Metastatic HCC (tumor staging: T2N1M0 to T3N1M0)</text>
<g shape-rendering="geometricPrecision">
<rect x="1.6" y="394.4" width="282.2" height="8.5" fill="#F06445"/>
<rect x="1.6" y="394.4" width="38.63" height="8.5" fill="#5C1A9B"/>
<rect x="39.23" y="394.4" width="19.81" height="8.5" fill="#F06445"/>
<rect x="58.04" y="394.4" width="38.63" height="8.5" fill="#5C1A9B"/>
<rect x="95.67" y="394.4" width="10.41" height="8.5" fill="#F06445"/>
<rect x="105.07" y="394.4" width="19.81" height="8.5" fill="#5C1A9B"/>
<rect x="123.89" y="394.4" width="38.63" height="8.5" fill="#F06445"/>
<rect x="161.51" y="394.4" width="10.41" height="8.5" fill="#5C1A9B"/>
<rect x="170.92" y="394.4" width="29.22" height="8.5" fill="#F06445"/>
<rect x="199.14" y="394.4" width="19.81" height="8.5" fill="#5C1A9B"/>
<rect x="217.95" y="394.4" width="10.41" height="8.5" fill="#F06445"/>
<rect x="227.36" y="394.4" width="10.41" height="8.5" fill="#5C1A9B"/>
<rect x="236.77" y="394.4" width="10.41" height="8.5" fill="#F06445"/>
<rect x="246.17" y="394.4" width="10.41" height="8.5" fill="#5C1A9B"/>
<rect x="255.58" y="394.4" width="28.22" height="8.5" fill="#F06445"/>
<rect x="1.6" y="406.4" width="10.41" height="12.72" fill="#382C93"/>
<rect x="11.01" y="406.4" width="10.41" height="12.72" fill="#4040A0"/>
<rect x="20.41" y="406.4" width="10.41" height="12.72" fill="#514FA9"/>
<rect x="29.82" y="406.4" width="10.41" height="12.72" fill="#DDD6F4"/>
<rect x="39.23" y="406.4" width="10.41" height="12.72" fill="#6E64B9"/>
<rect x="48.63" y="406.4" width="10.41" height="12.72" fill="#514FA9"/>
<rect x="58.04" y="406.4" width="10.41" height="12.72" fill="#6E64B9"/>
<rect x="67.45" y="406.4" width="10.41" height="12.72" fill="#DDD6F4"/>
<rect x="76.85" y="406.4" width="10.41" height="12.72" fill="#A89EDD"/>
<rect x="86.26" y="406.4" width="10.41" height="12.72" fill="#FFFFFF"/>
<rect x="95.67" y="406.4" width="19.81" height="12.72" fill="#DDD6F4"/>
<rect x="114.48" y="406.4" width="10.41" height="12.72" fill="#FFE5E1"/>
<rect x="123.89" y="406.4" width="10.41" height="12.72" fill="#6E64B9"/>
<rect x="133.29" y="406.4" width="10.41" height="12.72" fill="#FECAC2"/>
<rect x="142.7" y="406.4" width="10.41" height="12.72" fill="#DDD6F4"/>
<rect x="152.11" y="406.4" width="10.41" height="12.72" fill="#FB8672"/>
<rect x="161.51" y="406.4" width="10.41" height="12.72" fill="#FFFFFF"/>
<rect x="170.92" y="406.4" width="19.81" height="12.72" fill="#FDA99B"/>
<rect x="189.73" y="406.4" width="10.41" height="12.72" fill="#EE6549"/>
<rect x="199.14" y="406.4" width="10.41" height="12.72" fill="#FECAC2"/>
<rect x="208.55" y="406.4" width="19.81" height="12.72" fill="#FB8672"/>
<rect x="227.36" y="406.4" width="10.41" height="12.72" fill="#EE6549"/>
<rect x="236.77" y="406.4" width="10.41" height="12.72" fill="#FECAC2"/>
<rect x="246.17" y="406.4" width="10.41" height="12.72" fill="#EE6549"/>
<rect x="255.58" y="406.4" width="19.81" height="12.72" fill="#FB8672"/>
<rect x="274.39" y="406.4" width="9.41" height="12.72" fill="#EE6549"/>
<rect x="1.6" y="418.12" width="10.41" height="12.72" fill="#382C93"/>
<rect x="11.01" y="418.12" width="19.81" height="12.72" fill="#4040A0"/>
<rect x="29.82" y="418.12" width="10.41" height="12.72" fill="#6E64B9"/>
<rect x="39.23" y="418.12" width="19.81" height="12.72" fill="#514FA9"/>
<rect x="58.04" y="418.12" width="10.41" height="12.72" fill="#434AA3"/>
<rect x="67.45" y="418.12" width="10.41" height="12.72" fill="#6E64B9"/>
<rect x="76.85" y="418.12" width="19.81" height="12.72" fill="#A89EDD"/>
<rect x="95.67" y="418.12" width="38.63" height="12.72" fill="#DDD6F4"/>
<rect x="133.29" y="418.12" width="10.41" height="12.72" fill="#FECAC2"/>
<rect x="142.7" y="418.12" width="10.41" height="12.72" fill="#FFE5E1"/>
<rect x="152.11" y="418.12" width="10.41" height="12.72" fill="#FFFFFF"/>
<rect x="161.51" y="418.12" width="10.41" height="12.72" fill="#FFE5E1"/>
<rect x="170.92" y="418.12" width="10.41" height="12.72" fill="#FDA99B"/>
<rect x="180.33" y="418.12" width="10.41" height="12.72" fill="#FFFFFF"/>
<rect x="189.73" y="418.12" width="19.81" height="12.72" fill="#FDA99B"/>
<rect x="208.55" y="418.12" width="10.41" height="12.72" fill="#EE6549"/>
<rect x="217.95" y="418.12" width="19.81" height="12.72" fill="#FB8672"/>
<rect x="236.77" y="418.12" width="10.41" height="12.72" fill="#FDA99B"/>
<rect x="246.17" y="418.12" width="10.41" height="12.72" fill="#FB8672"/>
<rect x="255.58" y="418.12" width="10.41" height="12.72" fill="#E85038"/>
<rect x="264.99" y="418.12" width="10.41" height="12.72" fill="#EE6549"/>
<rect x="274.39" y="418.12" width="9.41" height="12.72" fill="#FB8672"/>
<rect x="1.6" y="429.83" width="10.41" height="12.72" fill="#514FA9"/>
<rect x="11.01" y="429.83" width="10.41" height="12.72" fill="#3A3499"/>
<rect x="20.41" y="429.83" width="10.41" height="12.72" fill="#DDD6F4"/>
<rect x="29.82" y="429.83" width="10.41" height="12.72" fill="#FECAC2"/>
<rect x="39.23" y="429.83" width="10.41" height="12.72" fill="#514FA9"/>
<rect x="48.63" y="429.83" width="10.41" height="12.72" fill="#434AA3"/>
<rect x="58.04" y="429.83" width="10.41" height="12.72" fill="#DDD6F4"/>
<rect x="67.45" y="429.83" width="10.41" height="12.72" fill="#A89EDD"/>
<rect x="76.85" y="429.83" width="10.41" height="12.72" fill="#514FA9"/>
<rect x="86.26" y="429.83" width="10.41" height="12.72" fill="#FFFFFF"/>
<rect x="95.67" y="429.83" width="10.41" height="12.72" fill="#4040A0"/>
<rect x="105.07" y="429.83" width="10.41" height="12.72" fill="#DDD6F4"/>
<rect x="114.48" y="429.83" width="10.41" height="12.72" fill="#FFE5E1"/>
<rect x="123.89" y="429.83" width="10.41" height="12.72" fill="#FFFFFF"/>
<rect x="133.29" y="429.83" width="29.22" height="12.72" fill="#FDA99B"/>
<rect x="161.51" y="429.83" width="10.41" height="12.72" fill="#FFFFFF"/>
<rect x="170.92" y="429.83" width="10.41" height="12.72" fill="#FDA99B"/>
<rect x="180.33" y="429.83" width="10.41" height="12.72" fill="#DDD6F4"/>
<rect x="189.73" y="429.83" width="19.81" height="12.72" fill="#FDA99B"/>
<rect x="208.55" y="429.83" width="10.41" height="12.72" fill="#FB8672"/>
<rect x="217.95" y="429.83" width="19.81" height="12.72" fill="#EE6549"/>
<rect x="236.77" y="429.83" width="10.41" height="12.72" fill="#FB8672"/>
<rect x="246.17" y="429.83" width="10.41" height="12.72" fill="#EE6549"/>
<rect x="255.58" y="429.83" width="10.41" height="12.72" fill="#FDA99B"/>
<rect x="264.99" y="429.83" width="10.41" height="12.72" fill="#FB8672"/>
<rect x="274.39" y="429.83" width="9.41" height="12.72" fill="#E85038"/>
<rect x="1.6" y="441.55" width="10.41" height="12.72" fill="#434AA3"/>
<rect x="11.01" y="441.55" width="10.41" height="12.72" fill="#4040A0"/>
<rect x="20.41" y="441.55" width="10.41" height="12.72" fill="#E03524"/>
<rect x="29.82" y="441.55" width="10.41" height="12.72" fill="#434AA3"/>
<rect x="39.23" y="441.55" width="10.41" height="12.72" fill="#4040A0"/>
<rect x="48.63" y="441.55" width="10.41" height="12.72" fill="#514FA9"/>
<rect x="58.04" y="441.55" width="10.41" height="12.72" fill="#DDD6F4"/>
<rect x="67.45" y="441.55" width="10.41" height="12.72" fill="#A89EDD"/>
<rect x="76.85" y="441.55" width="10.41" height="12.72" fill="#6E64B9"/>
<rect x="86.26" y="441.55" width="10.41" height="12.72" fill="#A89EDD"/>
<rect x="95.67" y="441.55" width="19.81" height="12.72" fill="#FFFFFF"/>
<rect x="114.48" y="441.55" width="10.41" height="12.72" fill="#A89EDD"/>
<rect x="123.89" y="441.55" width="19.81" height="12.72" fill="#FFFFFF"/>
<rect x="142.7" y="441.55" width="10.41" height="12.72" fill="#FFE5E1"/>
<rect x="152.11" y="441.55" width="10.41" height="12.72" fill="#FDA99B"/>
<rect x="161.51" y="441.55" width="19.81" height="12.72" fill="#FECAC2"/>
<rect x="180.33" y="441.55" width="10.41" height="12.72" fill="#FFE5E1"/>
<rect x="189.73" y="441.55" width="10.41" height="12.72" fill="#FECAC2"/>
<rect x="199.14" y="441.55" width="10.41" height="12.72" fill="#FDA99B"/>
<rect x="208.55" y="441.55" width="10.41" height="12.72" fill="#FFE5E1"/>
<rect x="217.95" y="441.55" width="10.41" height="12.72" fill="#FECAC2"/>
<rect x="227.36" y="441.55" width="29.22" height="12.72" fill="#FDA99B"/>
<rect x="255.58" y="441.55" width="19.81" height="12.72" fill="#FB8672"/>
<rect x="274.39" y="441.55" width="9.41" height="12.72" fill="#EE6549"/>
<rect x="1.6" y="453.27" width="10.41" height="12.72" fill="#4040A0"/>
<rect x="11.01" y="453.27" width="10.41" height="12.72" fill="#6E64B9"/>
<rect x="20.41" y="453.27" width="10.41" height="12.72" fill="#DDD6F4"/>
<rect x="29.82" y="453.27" width="19.81" height="12.72" fill="#514FA9"/>
<rect x="48.63" y="453.27" width="10.41" height="12.72" fill="#DDD6F4"/>
<rect x="58.04" y="453.27" width="10.41" height="12.72" fill="#6E64B9"/>
<rect x="67.45" y="453.27" width="10.41" height="12.72" fill="#514FA9"/>
<rect x="76.85" y="453.27" width="19.81" height="12.72" fill="#6E64B9"/>
<rect x="95.67" y="453.27" width="19.81" height="12.72" fill="#FFFFFF"/>
<rect x="114.48" y="453.27" width="10.41" height="12.72" fill="#FFE5E1"/>
<rect x="123.89" y="453.27" width="10.41" height="12.72" fill="#DDD6F4"/>
<rect x="133.29" y="453.27" width="10.41" height="12.72" fill="#A89EDD"/>
<rect x="142.7" y="453.27" width="10.41" height="12.72" fill="#DDD6F4"/>
<rect x="152.11" y="453.27" width="10.41" height="12.72" fill="#FFE5E1"/>
<rect x="161.51" y="453.27" width="10.41" height="12.72" fill="#FFFFFF"/>
<rect x="170.92" y="453.27" width="10.41" height="12.72" fill="#FFE5E1"/>
<rect x="180.33" y="453.27" width="38.63" height="12.72" fill="#FECAC2"/>
<rect x="217.95" y="453.27" width="10.41" height="12.72" fill="#FDA99B"/>
<rect x="227.36" y="453.27" width="10.41" height="12.72" fill="#FB8672"/>
<rect x="236.77" y="453.27" width="10.41" height="12.72" fill="#E85038"/>
<rect x="246.17" y="453.27" width="10.41" height="12.72" fill="#EE6549"/>
<rect x="255.58" y="453.27" width="10.41" height="12.72" fill="#E4432F"/>
<rect x="264.99" y="453.27" width="10.41" height="12.72" fill="#EE6549"/>
<rect x="274.39" y="453.27" width="9.41" height="12.72" fill="#E03524"/>
<rect x="1.6" y="464.99" width="10.41" height="12.72" fill="#4040A0"/>
<rect x="11.01" y="464.99" width="10.41" height="12.72" fill="#514FA9"/>
<rect x="20.41" y="464.99" width="10.41" height="12.72" fill="#DDD6F4"/>
<rect x="29.82" y="464.99" width="10.41" height="12.72" fill="#434AA3"/>
<rect x="39.23" y="464.99" width="10.41" height="12.72" fill="#6E64B9"/>
<rect x="48.63" y="464.99" width="10.41" height="12.72" fill="#DDD6F4"/>
<rect x="58.04" y="464.99" width="19.81" height="12.72" fill="#514FA9"/>
<rect x="76.85" y="464.99" width="19.81" height="12.72" fill="#6E64B9"/>
<rect x="95.67" y="464.99" width="38.63" height="12.72" fill="#FFFFFF"/>
<rect x="133.29" y="464.99" width="10.41" height="12.72" fill="#DDD6F4"/>
<rect x="142.7" y="464.99" width="10.41" height="12.72" fill="#FFFFFF"/>
<rect x="152.11" y="464.99" width="19.81" height="12.72" fill="#FFE5E1"/>
<rect x="170.92" y="464.99" width="48.03" height="12.72" fill="#FECAC2"/>
<rect x="217.95" y="464.99" width="10.41" height="12.72" fill="#FDA99B"/>
<rect x="227.36" y="464.99" width="10.41" height="12.72" fill="#FB8672"/>
<rect x="236.77" y="464.99" width="10.41" height="12.72" fill="#EE6549"/>
<rect x="246.17" y="464.99" width="10.41" height="12.72" fill="#FB8672"/>
<rect x="255.58" y="464.99" width="10.41" height="12.72" fill="#E4432F"/>
<rect x="264.99" y="464.99" width="10.41" height="12.72" fill="#EE6549"/>
<rect x="274.39" y="464.99" width="9.41" height="12.72" fill="#E4432F"/>
<rect x="1.6" y="476.7" width="10.41" height="12.72" fill="#4040A0"/>
<rect x="11.01" y="476.7" width="10.41" height="12.72" fill="#514FA9"/>
<rect x="20.41" y="476.7" width="10.41" height="12.72" fill="#6E64B9"/>
<rect x="29.82" y="476.7" width="19.81" height="12.72" fill="#514FA9"/>
<rect x="48.63" y="476.7" width="10.41" height="12.72" fill="#A89EDD"/>
<rect x="58.04" y="476.7" width="10.41" height="12.72" fill="#514FA9"/>
<rect x="67.45" y="476.7" width="10.41" height="12.72" fill="#6E64B9"/>
<rect x="76.85" y="476.7" width="19.81" height="12.72" fill="#A89EDD"/>
<rect x="95.67" y="476.7" width="48.03" height="12.72" fill="#FFFFFF"/>
<rect x="142.7" y="476.7" width="10.41" height="12.72" fill="#DDD6F4"/>
<rect x="152.11" y="476.7" width="10.41" height="12.72" fill="#FECAC2"/>
<rect x="161.51" y="476.7" width="10.41" height="12.72" fill="#FFFFFF"/>
<rect x="170.92" y="476.7" width="10.41" height="12.72" fill="#FECAC2"/>
<rect x="180.33" y="476.7" width="19.81" height="12.72" fill="#FDA99B"/>
<rect x="199.14" y="476.7" width="10.41" height="12.72" fill="#FECAC2"/>
<rect x="208.55" y="476.7" width="19.81" height="12.72" fill="#FDA99B"/>
<rect x="227.36" y="476.7" width="10.41" height="12.72" fill="#FB8672"/>
<rect x="236.77" y="476.7" width="10.41" height="12.72" fill="#E85038"/>
<rect x="246.17" y="476.7" width="29.22" height="12.72" fill="#EE6549"/>
<rect x="274.39" y="476.7" width="9.41" height="12.72" fill="#E4432F"/>
<rect x="1.6" y="488.42" width="10.41" height="12.72" fill="#3A3499"/>
<rect x="11.01" y="488.42" width="10.41" height="12.72" fill="#6E64B9"/>
<rect x="20.41" y="488.42" width="10.41" height="12.72" fill="#434AA3"/>
<rect x="29.82" y="488.42" width="10.41" height="12.72" fill="#4040A0"/>
<rect x="39.23" y="488.42" width="38.63" height="12.72" fill="#6E64B9"/>
<rect x="76.85" y="488.42" width="10.41" height="12.72" fill="#DDD6F4"/>
<rect x="86.26" y="488.42" width="10.41" height="12.72" fill="#FFE5E1"/>
<rect x="95.67" y="488.42" width="10.41" height="12.72" fill="#DDD6F4"/>
<rect x="105.07" y="488.42" width="10.41" height="12.72" fill="#FFFFFF"/>
<rect x="114.48" y="488.42" width="10.41" height="12.72" fill="#FFE5E1"/>
<rect x="123.89" y="488.42" width="10.41" height="12.72" fill="#FDA99B"/>
<rect x="133.29" y="488.42" width="10.41" height="12.72" fill="#6E64B9"/>
<rect x="142.7" y="488.42" width="10.41" height="12.72" fill="#FFFFFF"/>
<rect x="152.11" y="488.42" width="10.41" height="12.72" fill="#DDD6F4"/>
<rect x="161.51" y="488.42" width="19.81" height="12.72" fill="#FFFFFF"/>
<rect x="180.33" y="488.42" width="10.41" height="12.72" fill="#FDA99B"/>
<rect x="189.73" y="488.42" width="10.41" height="12.72" fill="#FFE5E1"/>
<rect x="199.14" y="488.42" width="10.41" height="12.72" fill="#FECAC2"/>
<rect x="208.55" y="488.42" width="10.41" height="12.72" fill="#FB8672"/>
<rect x="217.95" y="488.42" width="19.81" height="12.72" fill="#FDA99B"/>
<rect x="236.77" y="488.42" width="19.81" height="12.72" fill="#EE6549"/>
<rect x="255.58" y="488.42" width="10.41" height="12.72" fill="#FB8672"/>
<rect x="264.99" y="488.42" width="18.81" height="12.72" fill="#E4432F"/>
<rect x="1.6" y="500.14" width="10.41" height="12.72" fill="#3A3499"/>
<rect x="11.01" y="500.14" width="10.41" height="12.72" fill="#6E64B9"/>
<rect x="20.41" y="500.14" width="10.41" height="12.72" fill="#434AA3"/>
<rect x="29.82" y="500.14" width="10.41" height="12.72" fill="#4040A0"/>
<rect x="39.23" y="500.14" width="38.63" height="12.72" fill="#6E64B9"/>
<rect x="76.85" y="500.14" width="10.41" height="12.72" fill="#A89EDD"/>
<rect x="86.26" y="500.14" width="10.41" height="12.72" fill="#FFE5E1"/>
<rect x="95.67" y="500.14" width="10.41" height="12.72" fill="#DDD6F4"/>
<rect x="105.07" y="500.14" width="10.41" height="12.72" fill="#FFFFFF"/>
<rect x="114.48" y="500.14" width="10.41" height="12.72" fill="#FFE5E1"/>
<rect x="123.89" y="500.14" width="10.41" height="12.72" fill="#FECAC2"/>
<rect x="133.29" y="500.14" width="10.41" height="12.72" fill="#A89EDD"/>
<rect x="142.7" y="500.14" width="10.41" height="12.72" fill="#FFE5E1"/>
<rect x="152.11" y="500.14" width="10.41" height="12.72" fill="#FFFFFF"/>
<rect x="161.51" y="500.14" width="29.22" height="12.72" fill="#FFE5E1"/>
<rect x="189.73" y="500.14" width="10.41" height="12.72" fill="#FECAC2"/>
<rect x="199.14" y="500.14" width="10.41" height="12.72" fill="#FDA99B"/>
<rect x="208.55" y="500.14" width="48.03" height="12.72" fill="#FB8672"/>
<rect x="255.58" y="500.14" width="10.41" height="12.72" fill="#EE6549"/>
<rect x="264.99" y="500.14" width="18.81" height="12.72" fill="#E4432F"/>
<rect x="1.6" y="511.86" width="10.41" height="12.72" fill="#FDA99B"/>
<rect x="11.01" y="511.86" width="10.41" height="12.72" fill="#434AA3"/>
<rect x="20.41" y="511.86" width="10.41" height="12.72" fill="#6E64B9"/>
<rect x="29.82" y="511.86" width="10.41" height="12.72" fill="#514FA9"/>
<rect x="39.23" y="511.86" width="10.41" height="12.72" fill="#434AA3"/>
<rect x="48.63" y="511.86" width="10.41" height="12.72" fill="#6E64B9"/>
<rect x="58.04" y="511.86" width="10.41" height="12.72" fill="#514FA9"/>
<rect x="67.45" y="511.86" width="19.81" height="12.72" fill="#6E64B9"/>
<rect x="86.26" y="511.86" width="10.41" height="12.72" fill="#A89EDD"/>
<rect x="95.67" y="511.86" width="10.41" height="12.72" fill="#DDD6F4"/>
<rect x="105.07" y="511.86" width="19.81" height="12.72" fill="#FFFFFF"/>
<rect x="123.89" y="511.86" width="10.41" height="12.72" fill="#A89EDD"/>
<rect x="133.29" y="511.86" width="10.41" height="12.72" fill="#DDD6F4"/>
<rect x="142.7" y="511.86" width="10.41" height="12.72" fill="#FFFFFF"/>
<rect x="152.11" y="511.86" width="10.41" height="12.72" fill="#FECAC2"/>
<rect x="161.51" y="511.86" width="10.41" height="12.72" fill="#FFE5E1"/>
<rect x="170.92" y="511.86" width="19.81" height="12.72" fill="#FECAC2"/>
<rect x="189.73" y="511.86" width="29.22" height="12.72" fill="#FDA99B"/>
<rect x="217.95" y="511.86" width="10.41" height="12.72" fill="#FB8672"/>
<rect x="227.36" y="511.86" width="10.41" height="12.72" fill="#EE6549"/>
<rect x="236.77" y="511.86" width="19.81" height="12.72" fill="#FB8672"/>
<rect x="255.58" y="511.86" width="10.41" height="12.72" fill="#E03524"/>
<rect x="264.99" y="511.86" width="10.41" height="12.72" fill="#FB8672"/>
<rect x="274.39" y="511.86" width="9.41" height="12.72" fill="#E85038"/>
<rect x="1.6" y="523.57" width="10.41" height="12.72" fill="#434AA3"/>
<rect x="11.01" y="523.57" width="10.41" height="12.72" fill="#514FA9"/>
<rect x="20.41" y="523.57" width="10.41" height="12.72" fill="#A89EDD"/>
<rect x="29.82" y="523.57" width="10.41" height="12.72" fill="#4040A0"/>
<rect x="39.23" y="523.57" width="10.41" height="12.72" fill="#6E64B9"/>
<rect x="48.63" y="523.57" width="19.81" height="12.72" fill="#A89EDD"/>
<rect x="67.45" y="523.57" width="10.41" height="12.72" fill="#6E64B9"/>
<rect x="76.85" y="523.57" width="10.41" height="12.72" fill="#A89EDD"/>
<rect x="86.26" y="523.57" width="10.41" height="12.72" fill="#DDD6F4"/>
<rect x="95.67" y="523.57" width="29.22" height="12.72" fill="#FFFFFF"/>
<rect x="123.89" y="523.57" width="10.41" height="12.72" fill="#FFE5E1"/>
<rect x="133.29" y="523.57" width="10.41" height="12.72" fill="#FFFFFF"/>
<rect x="142.7" y="523.57" width="10.41" height="12.72" fill="#A89EDD"/>
<rect x="152.11" y="523.57" width="10.41" height="12.72" fill="#FFFFFF"/>
<rect x="161.51" y="523.57" width="19.81" height="12.72" fill="#FFE5E1"/>
<rect x="180.33" y="523.57" width="10.41" height="12.72" fill="#FDA99B"/>
<rect x="189.73" y="523.57" width="10.41" height="12.72" fill="#FECAC2"/>
<rect x="199.14" y="523.57" width="10.41" height="12.72" fill="#FDA99B"/>
<rect x="208.55" y="523.57" width="19.81" height="12.72" fill="#FECAC2"/>
<rect x="227.36" y="523.57" width="10.41" height="12.72" fill="#FB8672"/>
<rect x="236.77" y="523.57" width="19.81" height="12.72" fill="#EE6549"/>
<rect x="255.58" y="523.57" width="10.41" height="12.72" fill="#DC2A1A"/>
<rect x="264.99" y="523.57" width="18.81" height="12.72" fill="#E85038"/>
<rect x="1.6" y="535.29" width="10.41" height="12.72" fill="#382C93"/>
<rect x="11.01" y="535.29" width="10.41" height="12.72" fill="#434AA3"/>
<rect x="20.41" y="535.29" width="10.41" height="12.72" fill="#382C93"/>
<rect x="29.82" y="535.29" width="10.41" height="12.72" fill="#FFFFFF"/>
<rect x="39.23" y="535.29" width="10.41" height="12.72" fill="#DDD6F4"/>
<rect x="48.63" y="535.29" width="19.81" height="12.72" fill="#4040A0"/>
<rect x="67.45" y="535.29" width="19.81" height="12.72" fill="#DDD6F4"/>
<rect x="86.26" y="535.29" width="10.41" height="12.72" fill="#FFE5E1"/>
<rect x="95.67" y="535.29" width="10.41" height="12.72" fill="#6E64B9"/>
<rect x="105.07" y="535.29" width="10.41" height="12.72" fill="#A89EDD"/>
<rect x="114.48" y="535.29" width="10.41" height="12.72" fill="#FFFFFF"/>
<rect x="123.89" y="535.29" width="10.41" height="12.72" fill="#DDD6F4"/>
<rect x="133.29" y="535.29" width="10.41" height="12.72" fill="#FDA99B"/>
<rect x="142.7" y="535.29" width="10.41" height="12.72" fill="#FB8672"/>
<rect x="152.11" y="535.29" width="10.41" height="12.72" fill="#FDA99B"/>
<rect x="161.51" y="535.29" width="19.81" height="12.72" fill="#FECAC2"/>
<rect x="180.33" y="535.29" width="10.41" height="12.72" fill="#EE6549"/>
<rect x="189.73" y="535.29" width="19.81" height="12.72" fill="#FDA99B"/>
<rect x="208.55" y="535.29" width="10.41" height="12.72" fill="#FFFFFF"/>
<rect x="217.95" y="535.29" width="10.41" height="12.72" fill="#EE6549"/>
<rect x="227.36" y="535.29" width="10.41" height="12.72" fill="#FB8672"/>
<rect x="236.77" y="535.29" width="10.41" height="12.72" fill="#FDA99B"/>
<rect x="246.17" y="535.29" width="10.41" height="12.72" fill="#EE6549"/>
<rect x="255.58" y="535.29" width="28.22" height="12.72" fill="#FB8672"/>
<rect x="1.6" y="547.01" width="10.41" height="12.72" fill="#434AA3"/>
<rect x="11.01" y="547.01" width="10.41" height="12.72" fill="#4040A0"/>
<rect x="20.41" y="547.01" width="10.41" height="12.72" fill="#6E64B9"/>
<rect x="29.82" y="547.01" width="10.41" height="12.72" fill="#A89EDD"/>
<rect x="39.23" y="547.01" width="10.41" height="12.72" fill="#514FA9"/>
<rect x="48.63" y="547.01" width="10.41" height="12.72" fill="#4040A0"/>
<rect x="58.04" y="547.01" width="29.22" height="12.72" fill="#A89EDD"/>
<rect x="86.26" y="547.01" width="19.81" height="12.72" fill="#DDD6F4"/>
<rect x="105.07" y="547.01" width="10.41" height="12.72" fill="#A89EDD"/>
<rect x="114.48" y="547.01" width="10.41" height="12.72" fill="#FFE5E1"/>
<rect x="123.89" y="547.01" width="10.41" height="12.72" fill="#DDD6F4"/>
<rect x="133.29" y="547.01" width="10.41" height="12.72" fill="#FDA99B"/>
<rect x="142.7" y="547.01" width="10.41" height="12.72" fill="#FFE5E1"/>
<rect x="152.11" y="547.01" width="10.41" height="12.72" fill="#FECAC2"/>
<rect x="161.51" y="547.01" width="10.41" height="12.72" fill="#FFE5E1"/>
<rect x="170.92" y="547.01" width="10.41" height="12.72" fill="#FECAC2"/>
<rect x="180.33" y="547.01" width="10.41" height="12.72" fill="#FFFFFF"/>
<rect x="189.73" y="547.01" width="19.81" height="12.72" fill="#FDA99B"/>
<rect x="208.55" y="547.01" width="10.41" height="12.72" fill="#EE6549"/>
<rect x="217.95" y="547.01" width="10.41" height="12.72" fill="#FB8672"/>
<rect x="227.36" y="547.01" width="19.81" height="12.72" fill="#EE6549"/>
<rect x="246.17" y="547.01" width="10.41" height="12.72" fill="#E85038"/>
<rect x="255.58" y="547.01" width="10.41" height="12.72" fill="#FB8672"/>
<rect x="264.99" y="547.01" width="18.81" height="12.72" fill="#EE6549"/>
<rect x="1.6" y="558.73" width="19.81" height="12.72" fill="#4040A0"/>
<rect x="20.41" y="558.73" width="10.41" height="12.72" fill="#3A3499"/>
<rect x="29.82" y="558.73" width="10.41" height="12.72" fill="#434AA3"/>
<rect x="39.23" y="558.73" width="10.41" height="12.72" fill="#6E64B9"/>
<rect x="48.63" y="558.73" width="10.41" height="12.72" fill="#A89EDD"/>
<rect x="58.04" y="558.73" width="10.41" height="12.72" fill="#514FA9"/>
<rect x="67.45" y="558.73" width="10.41" height="12.72" fill="#6E64B9"/>
<rect x="76.85" y="558.73" width="19.81" height="12.72" fill="#DDD6F4"/>
<rect x="95.67" y="558.73" width="29.22" height="12.72" fill="#FFFFFF"/>
<rect x="123.89" y="558.73" width="19.81" height="12.72" fill="#DDD6F4"/>
<rect x="142.7" y="558.73" width="10.41" height="12.72" fill="#A89EDD"/>
<rect x="152.11" y="558.73" width="10.41" height="12.72" fill="#DDD6F4"/>
<rect x="161.51" y="558.73" width="19.81" height="12.72" fill="#FECAC2"/>
<rect x="180.33" y="558.73" width="10.41" height="12.72" fill="#EE6549"/>
<rect x="189.73" y="558.73" width="19.81" height="12.72" fill="#FECAC2"/>
<rect x="208.55" y="558.73" width="19.81" height="12.72" fill="#FB8672"/>
<rect x="227.36" y="558.73" width="10.41" height="12.72" fill="#FDA99B"/>
<rect x="236.77" y="558.73" width="29.22" height="12.72" fill="#FB8672"/>
<rect x="264.99" y="558.73" width="10.41" height="12.72" fill="#E4432F"/>
<rect x="274.39" y="558.73" width="9.41" height="12.72" fill="#EE6549"/>
<rect x="1.6" y="570.44" width="19.81" height="12.72" fill="#514FA9"/>
<rect x="20.41" y="570.44" width="19.81" height="12.72" fill="#4040A0"/>
<rect x="39.23" y="570.44" width="19.81" height="12.72" fill="#6E64B9"/>
<rect x="58.04" y="570.44" width="10.41" height="12.72" fill="#4040A0"/>
<rect x="67.45" y="570.44" width="10.41" height="12.72" fill="#A89EDD"/>
<rect x="76.85" y="570.44" width="10.41" height="12.72" fill="#DDD6F4"/>
<rect x="86.26" y="570.44" width="10.41" height="12.72" fill="#434AA3"/>
<rect x="95.67" y="570.44" width="19.81" height="12.72" fill="#FFFFFF"/>
<rect x="114.48" y="570.44" width="10.41" height="12.72" fill="#DDD6F4"/>
<rect x="123.89" y="570.44" width="10.41" height="12.72" fill="#A89EDD"/>
<rect x="133.29" y="570.44" width="10.41" height="12.72" fill="#FFE5E1"/>
<rect x="142.7" y="570.44" width="29.22" height="12.72" fill="#FFFFFF"/>
<rect x="170.92" y="570.44" width="10.41" height="12.72" fill="#FECAC2"/>
<rect x="180.33" y="570.44" width="19.81" height="12.72" fill="#FDA99B"/>
<rect x="199.14" y="570.44" width="10.41" height="12.72" fill="#FB8672"/>
<rect x="208.55" y="570.44" width="10.41" height="12.72" fill="#FDA99B"/>
<rect x="217.95" y="570.44" width="10.41" height="12.72" fill="#EE6549"/>
<rect x="227.36" y="570.44" width="10.41" height="12.72" fill="#FB8672"/>
<rect x="236.77" y="570.44" width="10.41" height="12.72" fill="#EE6549"/>
<rect x="246.17" y="570.44" width="10.41" height="12.72" fill="#E85038"/>
<rect x="255.58" y="570.44" width="10.41" height="12.72" fill="#FDA99B"/>
<rect x="264.99" y="570.44" width="18.81" height="12.72" fill="#EE6549"/>
<rect x="1.6" y="582.16" width="10.41" height="12.72" fill="#4040A0"/>
<rect x="11.01" y="582.16" width="10.41" height="12.72" fill="#6E64B9"/>
<rect x="20.41" y="582.16" width="10.41" height="12.72" fill="#4040A0"/>
<rect x="29.82" y="582.16" width="10.41" height="12.72" fill="#6E64B9"/>
<rect x="39.23" y="582.16" width="10.41" height="12.72" fill="#434AA3"/>
<rect x="48.63" y="582.16" width="19.81" height="12.72" fill="#6E64B9"/>
<rect x="67.45" y="582.16" width="10.41" height="12.72" fill="#514FA9"/>
<rect x="76.85" y="582.16" width="10.41" height="12.72" fill="#A89EDD"/>
<rect x="86.26" y="582.16" width="10.41" height="12.72" fill="#FFE5E1"/>
<rect x="95.67" y="582.16" width="19.81" height="12.72" fill="#DDD6F4"/>
<rect x="114.48" y="582.16" width="10.41" height="12.72" fill="#FFFFFF"/>
<rect x="123.89" y="582.16" width="10.41" height="12.72" fill="#FFE5E1"/>
<rect x="133.29" y="582.16" width="10.41" height="12.72" fill="#FFFFFF"/>
<rect x="142.7" y="582.16" width="19.81" height="12.72" fill="#DDD6F4"/>
<rect x="161.51" y="582.16" width="10.41" height="12.72" fill="#FECAC2"/>
<rect x="170.92" y="582.16" width="19.81" height="12.72" fill="#FDA99B"/>
<rect x="189.73" y="582.16" width="19.81" height="12.72" fill="#FECAC2"/>
<rect x="208.55" y="582.16" width="10.41" height="12.72" fill="#EE6549"/>
<rect x="217.95" y="582.16" width="10.41" height="12.72" fill="#FB8672"/>
<rect x="227.36" y="582.16" width="10.41" height="12.72" fill="#FDA99B"/>
<rect x="236.77" y="582.16" width="19.81" height="12.72" fill="#FB8672"/>
<rect x="255.58" y="582.16" width="10.41" height="12.72" fill="#DC2A1A"/>
<rect x="264.99" y="582.16" width="10.41" height="12.72" fill="#E85038"/>
<rect x="274.39" y="582.16" width="9.41" height="12.72" fill="#EE6549"/>
<rect x="1.6" y="593.88" width="10.41" height="12.72" fill="#3A3499"/>
<rect x="11.01" y="593.88" width="10.41" height="12.72" fill="#4040A0"/>
<rect x="20.41" y="593.88" width="10.41" height="12.72" fill="#434AA3"/>
<rect x="29.82" y="593.88" width="10.41" height="12.72" fill="#DDD6F4"/>
<rect x="39.23" y="593.88" width="10.41" height="12.72" fill="#6E64B9"/>
<rect x="48.63" y="593.88" width="10.41" height="12.72" fill="#514FA9"/>
<rect x="58.04" y="593.88" width="10.41" height="12.72" fill="#A89EDD"/>
<rect x="67.45" y="593.88" width="19.81" height="12.72" fill="#DDD6F4"/>
<rect x="86.26" y="593.88" width="10.41" height="12.72" fill="#FECAC2"/>
<rect x="95.67" y="593.88" width="10.41" height="12.72" fill="#DDD6F4"/>
<rect x="105.07" y="593.88" width="29.22" height="12.72" fill="#FFFFFF"/>
<rect x="133.29" y="593.88" width="10.41" height="12.72" fill="#FDA99B"/>
<rect x="142.7" y="593.88" width="10.41" height="12.72" fill="#FFFFFF"/>
<rect x="152.11" y="593.88" width="10.41" height="12.72" fill="#FDA99B"/>
<rect x="161.51" y="593.88" width="10.41" height="12.72" fill="#FECAC2"/>
<rect x="170.92" y="593.88" width="10.41" height="12.72" fill="#FB8672"/>
<rect x="180.33" y="593.88" width="10.41" height="12.72" fill="#FFE5E1"/>
<rect x="189.73" y="593.88" width="10.41" height="12.72" fill="#FB8672"/>
<rect x="199.14" y="593.88" width="10.41" height="12.72" fill="#FDA99B"/>
<rect x="208.55" y="593.88" width="10.41" height="12.72" fill="#E85038"/>
<rect x="217.95" y="593.88" width="10.41" height="12.72" fill="#EE6549"/>
<rect x="227.36" y="593.88" width="10.41" height="12.72" fill="#FDA99B"/>
<rect x="236.77" y="593.88" width="10.41" height="12.72" fill="#FB8672"/>
<rect x="246.17" y="593.88" width="10.41" height="12.72" fill="#E4432F"/>
<rect x="255.58" y="593.88" width="10.41" height="12.72" fill="#FFFFFF"/>
<rect x="264.99" y="593.88" width="10.41" height="12.72" fill="#E85038"/>
<rect x="274.39" y="593.88" width="9.41" height="12.72" fill="#FB8672"/>
<rect x="1.6" y="605.6" width="10.41" height="12.72" fill="#382C93"/>
<rect x="11.01" y="605.6" width="10.41" height="12.72" fill="#514FA9"/>
<rect x="20.41" y="605.6" width="19.81" height="12.72" fill="#434AA3"/>
<rect x="39.23" y="605.6" width="10.41" height="12.72" fill="#6E64B9"/>
<rect x="48.63" y="605.6" width="10.41" height="12.72" fill="#434AA3"/>
<rect x="58.04" y="605.6" width="10.41" height="12.72" fill="#4040A0"/>
<rect x="67.45" y="605.6" width="10.41" height="12.72" fill="#6E64B9"/>
<rect x="76.85" y="605.6" width="10.41" height="12.72" fill="#DDD6F4"/>
<rect x="86.26" y="605.6" width="10.41" height="12.72" fill="#FFE5E1"/>
<rect x="95.67" y="605.6" width="19.81" height="12.72" fill="#FFFFFF"/>
<rect x="114.48" y="605.6" width="10.41" height="12.72" fill="#A89EDD"/>
<rect x="123.89" y="605.6" width="19.81" height="12.72" fill="#FFFFFF"/>
<rect x="142.7" y="605.6" width="10.41" height="12.72" fill="#EE6549"/>
<rect x="152.11" y="605.6" width="10.41" height="12.72" fill="#FDA99B"/>
<rect x="161.51" y="605.6" width="10.41" height="12.72" fill="#FECAC2"/>
<rect x="170.92" y="605.6" width="10.41" height="12.72" fill="#FFE5E1"/>
<rect x="180.33" y="605.6" width="10.41" height="12.72" fill="#FDA99B"/>
<rect x="189.73" y="605.6" width="10.41" height="12.72" fill="#FECAC2"/>
<rect x="199.14" y="605.6" width="10.41" height="12.72" fill="#FB8672"/>
<rect x="208.55" y="605.6" width="10.41" height="12.72" fill="#E85038"/>
<rect x="217.95" y="605.6" width="29.22" height="12.72" fill="#FECAC2"/>
<rect x="246.17" y="605.6" width="10.41" height="12.72" fill="#EE6549"/>
<rect x="255.58" y="605.6" width="10.41" height="12.72" fill="#DDD6F4"/>
<rect x="264.99" y="605.6" width="10.41" height="12.72" fill="#E4432F"/>
<rect x="274.39" y="605.6" width="9.41" height="12.72" fill="#EE6549"/>
<rect x="1.6" y="617.31" width="10.41" height="12.72" fill="#2C2671"/>
<rect x="11.01" y="617.31" width="10.41" height="12.72" fill="#6E64B9"/>
<rect x="20.41" y="617.31" width="10.41" height="12.72" fill="#A89EDD"/>
<rect x="29.82" y="617.31" width="10.41" height="12.72" fill="#514FA9"/>
<rect x="39.23" y="617.31" width="10.41" height="12.72" fill="#A89EDD"/>
<rect x="48.63" y="617.31" width="10.41" height="12.72" fill="#6E64B9"/>
<rect x="58.04" y="617.31" width="10.41" height="12.72" fill="#FFFFFF"/>
<rect x="67.45" y="617.31" width="10.41" height="12.72" fill="#A89EDD"/>
<rect x="76.85" y="617.31" width="10.41" height="12.72" fill="#514FA9"/>
<rect x="86.26" y="617.31" width="10.41" height="12.72" fill="#FFE5E1"/>
<rect x="95.67" y="617.31" width="38.63" height="12.72" fill="#FFFFFF"/>
<rect x="133.29" y="617.31" width="10.41" height="12.72" fill="#FECAC2"/>
<rect x="142.7" y="617.31" width="10.41" height="12.72" fill="#FFFFFF"/>
<rect x="152.11" y="617.31" width="10.41" height="12.72" fill="#514FA9"/>
<rect x="161.51" y="617.31" width="10.41" height="12.72" fill="#6E64B9"/>
<rect x="170.92" y="617.31" width="10.41" height="12.72" fill="#DDD6F4"/>
<rect x="180.33" y="617.31" width="10.41" height="12.72" fill="#EE6549"/>
<rect x="189.73" y="617.31" width="10.41" height="12.72" fill="#FFE5E1"/>
<rect x="199.14" y="617.31" width="10.41" height="12.72" fill="#FB8672"/>
<rect x="208.55" y="617.31" width="19.81" height="12.72" fill="#FDA99B"/>
<rect x="227.36" y="617.31" width="10.41" height="12.72" fill="#FB8672"/>
<rect x="236.77" y="617.31" width="10.41" height="12.72" fill="#EE6549"/>
<rect x="246.17" y="617.31" width="10.41" height="12.72" fill="#E85038"/>
<rect x="255.58" y="617.31" width="10.41" height="12.72" fill="#FECAC2"/>
<rect x="264.99" y="617.31" width="18.81" height="12.72" fill="#E85038"/>
<rect x="1.6" y="629.03" width="29.22" height="12.72" fill="#6E64B9"/>
<rect x="29.82" y="629.03" width="19.81" height="12.72" fill="#514FA9"/>
<rect x="48.63" y="629.03" width="10.41" height="12.72" fill="#6E64B9"/>
<rect x="58.04" y="629.03" width="10.41" height="12.72" fill="#A89EDD"/>
<rect x="67.45" y="629.03" width="10.41" height="12.72" fill="#6E64B9"/>
<rect x="76.85" y="629.03" width="10.41" height="12.72" fill="#A89EDD"/>
<rect x="86.26" y="629.03" width="10.41" height="12.72" fill="#6E64B9"/>
<rect x="95.67" y="629.03" width="19.81" height="12.72" fill="#FFFFFF"/>
<rect x="114.48" y="629.03" width="10.41" height="12.72" fill="#FFE5E1"/>
<rect x="123.89" y="629.03" width="10.41" height="12.72" fill="#FFFFFF"/>
<rect x="133.29" y="629.03" width="10.41" height="12.72" fill="#FECAC2"/>
<rect x="142.7" y="629.03" width="10.41" height="12.72" fill="#FFE5E1"/>
<rect x="152.11" y="629.03" width="10.41" height="12.72" fill="#FDA99B"/>
<rect x="161.51" y="629.03" width="10.41" height="12.72" fill="#FFE5E1"/>
<rect x="170.92" y="629.03" width="10.41" height="12.72" fill="#FDA99B"/>
<rect x="180.33" y="629.03" width="10.41" height="12.72" fill="#DDD6F4"/>
<rect x="189.73" y="629.03" width="10.41" height="12.72" fill="#FECAC2"/>
<rect x="199.14" y="629.03" width="19.81" height="12.72" fill="#FDA99B"/>
<rect x="217.95" y="629.03" width="29.22" height="12.72" fill="#FB8672"/>
<rect x="246.17" y="629.03" width="10.41" height="12.72" fill="#EE6549"/>
<rect x="255.58" y="629.03" width="10.41" height="12.72" fill="#DC2A1A"/>
<rect x="264.99" y="629.03" width="18.81" height="12.72" fill="#E85038"/>
<rect x="1.6" y="640.75" width="19.81" height="12.72" fill="#4040A0"/>
<rect x="20.41" y="640.75" width="10.41" height="12.72" fill="#3A3499"/>
<rect x="29.82" y="640.75" width="10.41" height="12.72" fill="#4040A0"/>
<rect x="39.23" y="640.75" width="10.41" height="12.72" fill="#6E64B9"/>
<rect x="48.63" y="640.75" width="10.41" height="12.72" fill="#514FA9"/>
<rect x="58.04" y="640.75" width="10.41" height="12.72" fill="#DDD6F4"/>
<rect x="67.45" y="640.75" width="10.41" height="12.72" fill="#A89EDD"/>
<rect x="76.85" y="640.75" width="10.41" height="12.72" fill="#FFE5E1"/>
<rect x="86.26" y="640.75" width="10.41" height="12.72" fill="#6E64B9"/>
<rect x="95.67" y="640.75" width="10.41" height="12.72" fill="#FECAC2"/>
<rect x="105.07" y="640.75" width="10.41" height="12.72" fill="#A89EDD"/>
<rect x="114.48" y="640.75" width="10.41" height="12.72" fill="#DDD6F4"/>
<rect x="123.89" y="640.75" width="10.41" height="12.72" fill="#E85038"/>
<rect x="133.29" y="640.75" width="10.41" height="12.72" fill="#DDD6F4"/>
<rect x="142.7" y="640.75" width="19.81" height="12.72" fill="#FECAC2"/>
<rect x="161.51" y="640.75" width="10.41" height="12.72" fill="#E85038"/>
<rect x="170.92" y="640.75" width="10.41" height="12.72" fill="#FECAC2"/>
<rect x="180.33" y="640.75" width="19.81" height="12.72" fill="#FFFFFF"/>
<rect x="199.14" y="640.75" width="10.41" height="12.72" fill="#FFE5E1"/>
<rect x="208.55" y="640.75" width="10.41" height="12.72" fill="#FB8672"/>
<rect x="217.95" y="640.75" width="19.81" height="12.72" fill="#FFE5E1"/>
<rect x="236.77" y="640.75" width="19.81" height="12.72" fill="#FECAC2"/>
<rect x="255.58" y="640.75" width="10.41" height="12.72" fill="#FFE5E1"/>
<rect x="264.99" y="640.75" width="10.41" height="12.72" fill="#E85038"/>
<rect x="274.39" y="640.75" width="9.41" height="12.72" fill="#FDA99B"/>
<rect x="1.6" y="652.47" width="10.41" height="12.72" fill="#382C93"/>
<rect x="11.01" y="652.47" width="10.41" height="12.72" fill="#514FA9"/>
<rect x="20.41" y="652.47" width="10.41" height="12.72" fill="#434AA3"/>
<rect x="29.82" y="652.47" width="10.41" height="12.72" fill="#4040A0"/>
<rect x="39.23" y="652.47" width="10.41" height="12.72" fill="#6E64B9"/>
<rect x="48.63" y="652.47" width="10.41" height="12.72" fill="#A89EDD"/>
<rect x="58.04" y="652.47" width="10.41" height="12.72" fill="#6E64B9"/>
<rect x="67.45" y="652.47" width="10.41" height="12.72" fill="#A89EDD"/>
<rect x="76.85" y="652.47" width="10.41" height="12.72" fill="#DDD6F4"/>
<rect x="86.26" y="652.47" width="10.41" height="12.72" fill="#FFE5E1"/>
<rect x="95.67" y="652.47" width="10.41" height="12.72" fill="#FFFFFF"/>
<rect x="105.07" y="652.47" width="10.41" height="12.72" fill="#FFE5E1"/>
<rect x="114.48" y="652.47" width="10.41" height="12.72" fill="#FFFFFF"/>
<rect x="123.89" y="652.47" width="10.41" height="12.72" fill="#FECAC2"/>
<rect x="133.29" y="652.47" width="10.41" height="12.72" fill="#6E64B9"/>
<rect x="142.7" y="652.47" width="19.81" height="12.72" fill="#DDD6F4"/>
<rect x="161.51" y="652.47" width="19.81" height="12.72" fill="#FFE5E1"/>
<rect x="180.33" y="652.47" width="10.41" height="12.72" fill="#FFFFFF"/>
<rect x="189.73" y="652.47" width="19.81" height="12.72" fill="#FECAC2"/>
<rect x="208.55" y="652.47" width="19.81" height="12.72" fill="#FB8672"/>
<rect x="227.36" y="652.47" width="10.41" height="12.72" fill="#FDA99B"/>
<rect x="236.77" y="652.47" width="10.41" height="12.72" fill="#FB8672"/>
<rect x="246.17" y="652.47" width="10.41" height="12.72" fill="#EE6549"/>
<rect x="255.58" y="652.47" width="10.41" height="12.72" fill="#E85038"/>
<rect x="264.99" y="652.47" width="10.41" height="12.72" fill="#E4432F"/>
<rect x="274.39" y="652.47" width="9.41" height="12.72" fill="#E03524"/>
<rect x="1.6" y="664.18" width="10.41" height="11.72" fill="#3A3499"/>
<rect x="11.01" y="664.18" width="10.41" height="11.72" fill="#434AA3"/>
<rect x="20.41" y="664.18" width="10.41" height="11.72" fill="#514FA9"/>
<rect x="29.82" y="664.18" width="10.41" height="11.72" fill="#434AA3"/>
<rect x="39.23" y="664.18" width="10.41" height="11.72" fill="#6E64B9"/>
<rect x="48.63" y="664.18" width="10.41" height="11.72" fill="#A89EDD"/>
<rect x="58.04" y="664.18" width="10.41" height="11.72" fill="#514FA9"/>
<rect x="67.45" y="664.18" width="10.41" height="11.72" fill="#6E64B9"/>
<rect x="76.85" y="664.18" width="10.41" height="11.72" fill="#DDD6F4"/>
<rect x="86.26" y="664.18" width="10.41" height="11.72" fill="#6E64B9"/>
<rect x="95.67" y="664.18" width="10.41" height="11.72" fill="#FECAC2"/>
<rect x="105.07" y="664.18" width="10.41" height="11.72" fill="#A89EDD"/>
<rect x="114.48" y="664.18" width="10.41" height="11.72" fill="#FFFFFF"/>
<rect x="123.89" y="664.18" width="10.41" height="11.72" fill="#FFE5E1"/>
<rect x="133.29" y="664.18" width="10.41" height="11.72" fill="#FECAC2"/>
<rect x="142.7" y="664.18" width="10.41" height="11.72" fill="#FFE5E1"/>
<rect x="152.11" y="664.18" width="10.41" height="11.72" fill="#DDD6F4"/>
<rect x="161.51" y="664.18" width="10.41" height="11.72" fill="#FECAC2"/>
<rect x="170.92" y="664.18" width="10.41" height="11.72" fill="#FFFFFF"/>
<rect x="180.33" y="664.18" width="10.41" height="11.72" fill="#FB8672"/>
<rect x="189.73" y="664.18" width="10.41" height="11.72" fill="#FFE5E1"/>
<rect x="199.14" y="664.18" width="10.41" height="11.72" fill="#FB8672"/>
<rect x="208.55" y="664.18" width="10.41" height="11.72" fill="#DDD6F4"/>
<rect x="217.95" y="664.18" width="10.41" height="11.72" fill="#FFE5E1"/>
<rect x="227.36" y="664.18" width="19.81" height="11.72" fill="#FB8672"/>
<rect x="246.17" y="664.18" width="10.41" height="11.72" fill="#FECAC2"/>
<rect x="255.58" y="664.18" width="10.41" height="11.72" fill="#FB8672"/>
<rect x="264.99" y="664.18" width="10.41" height="11.72" fill="#DC2A1A"/>
<rect x="274.39" y="664.18" width="9.41" height="11.72" fill="#E85038"/>
</g>
<text x="287.2" y="401.7" font-size="8.6" textLength="65.9" lengthAdjust="spacingAndGlyphs" fill="#111">CD8A localization</text>
<text x="287.2" y="415.56" font-size="8.5" textLength="37.29" lengthAdjust="spacingAndGlyphs" fill="#111">ADAMTS2</text>
<text x="287.2" y="427.28" font-size="8.5" textLength="16.58" lengthAdjust="spacingAndGlyphs" fill="#111">BGN</text>
<text x="287.2" y="438.99" font-size="8.5" textLength="33.48" lengthAdjust="spacingAndGlyphs" fill="#111">CLEC11A</text>
<text x="287.2" y="450.71" font-size="8.5" textLength="34.51" lengthAdjust="spacingAndGlyphs" fill="#111">COL16A1</text>
<text x="287.2" y="462.43" font-size="8.5" textLength="29.87" lengthAdjust="spacingAndGlyphs" fill="#111">COL1A1</text>
<text x="287.2" y="474.15" font-size="8.5" textLength="29.87" lengthAdjust="spacingAndGlyphs" fill="#111">COL1A2</text>
<text x="287.2" y="485.86" font-size="8.5" textLength="29.87" lengthAdjust="spacingAndGlyphs" fill="#111">COL3A1</text>
<text x="287.2" y="497.58" font-size="8.5" textLength="29.87" lengthAdjust="spacingAndGlyphs" fill="#111">COL4A1</text>
<text x="287.2" y="509.3" font-size="8.5" textLength="29.87" lengthAdjust="spacingAndGlyphs" fill="#111">COL4A2</text>
<text x="287.2" y="521.02" font-size="8.5" textLength="29.87" lengthAdjust="spacingAndGlyphs" fill="#111">COL5A1</text>
<text x="287.2" y="532.73" font-size="8.5" textLength="29.87" lengthAdjust="spacingAndGlyphs" fill="#111">COL6A3</text>
<text x="287.2" y="544.45" font-size="8.5" textLength="24.62" lengthAdjust="spacingAndGlyphs" fill="#111">DACT3</text>
<text x="287.2" y="556.17" font-size="8.5" textLength="30.9" lengthAdjust="spacingAndGlyphs" fill="#111">EMILIN1</text>
<text x="287.2" y="567.88" font-size="8.5" textLength="19.36" lengthAdjust="spacingAndGlyphs" fill="#111">FBN1</text>
<text x="287.2" y="579.6" font-size="8.5" textLength="25.03" lengthAdjust="spacingAndGlyphs" fill="#111">FNDC1</text>
<text x="287.2" y="591.32" font-size="8.5" textLength="21.42" lengthAdjust="spacingAndGlyphs" fill="#111">FSTL1</text>
<text x="287.2" y="603.04" font-size="8.5" textLength="20.81" lengthAdjust="spacingAndGlyphs" fill="#111">GGT5</text>
<text x="287.2" y="614.75" font-size="8.5" textLength="18.95" lengthAdjust="spacingAndGlyphs" fill="#111">HEYL</text>
<text x="287.2" y="626.47" font-size="8.5" textLength="25.03" lengthAdjust="spacingAndGlyphs" fill="#111">KCNE4</text>
<text x="287.2" y="638.19" font-size="8.5" textLength="22.14" lengthAdjust="spacingAndGlyphs" fill="#111">MRC2</text>
<text x="287.2" y="649.91" font-size="8.5" textLength="30.9" lengthAdjust="spacingAndGlyphs" fill="#111">PDGFRB</text>
<text x="287.2" y="661.62" font-size="8.5" textLength="23.59" lengthAdjust="spacingAndGlyphs" fill="#111">SPARC</text>
<text x="287.2" y="673.34" font-size="8.5" textLength="39.35" lengthAdjust="spacingAndGlyphs" fill="#111">TMEM119</text>
<text x="338.3" y="441.7" font-size="8.6" textLength="65.9" lengthAdjust="spacingAndGlyphs" fill="#111">CD8A localization</text>
<rect x="338.3" y="445" width="12.5" height="13" fill="#5C1A9B"/>
<rect x="338.3" y="457.8" width="12.5" height="12.8" fill="#F06445"/>
<text x="353.6" y="454.7" font-size="8.6" textLength="50.8" lengthAdjust="spacingAndGlyphs" fill="#111">Intra-tumoral</text>
<text x="353.6" y="467.5" font-size="8.6" textLength="47.8" lengthAdjust="spacingAndGlyphs" fill="#111">Peri-tumoral</text>
<rect x="338.9" y="502.9" width="10" height="8.22" fill="#DC2A1A"/>
<rect x="338.9" y="510.12" width="10" height="8.22" fill="#DC2A1A"/>
<rect x="338.9" y="517.34" width="10" height="8.22" fill="#E03524"/>
<rect x="338.9" y="524.56" width="10" height="8.22" fill="#E4432F"/>
<rect x="338.9" y="531.78" width="10" height="8.22" fill="#E85038"/>
<rect x="338.9" y="539" width="10" height="8.22" fill="#EE6549"/>
<rect x="338.9" y="546.21" width="10" height="8.22" fill="#FB8672"/>
<rect x="338.9" y="553.43" width="10" height="8.22" fill="#FDA99B"/>
<rect x="338.9" y="560.65" width="10" height="8.22" fill="#FECAC2"/>
<rect x="338.9" y="567.87" width="10" height="8.22" fill="#FFE5E1"/>
<rect x="338.9" y="575.09" width="10" height="8.22" fill="#FFFFFF"/>
<rect x="338.9" y="582.31" width="10" height="8.22" fill="#DDD6F4"/>
<rect x="338.9" y="589.53" width="10" height="8.22" fill="#A89EDD"/>
<rect x="338.9" y="596.75" width="10" height="8.22" fill="#6E64B9"/>
<rect x="338.9" y="603.97" width="10" height="8.22" fill="#514FA9"/>
<rect x="338.9" y="611.19" width="10" height="8.22" fill="#434AA3"/>
<rect x="338.9" y="618.4" width="10" height="8.22" fill="#4040A0"/>
<rect x="338.9" y="625.62" width="10" height="8.22" fill="#3A3499"/>
<rect x="338.9" y="632.84" width="10" height="8.22" fill="#382C93"/>
<rect x="338.9" y="640.06" width="10" height="8.22" fill="#332985"/>
<rect x="338.9" y="647.28" width="10" height="7.22" fill="#2C2671"/>
<text x="352.7" y="508.5" font-size="8.6" fill="#111">3</text>
<text x="352.7" y="531.2" font-size="8.6" fill="#111">2</text>
<text x="352.7" y="556.1" font-size="8.6" fill="#111">1</text>
<text x="352.7" y="582" font-size="8.6" fill="#111">0</text>
<text x="352.7" y="607.7" font-size="8.6" fill="#111">−1</text>
<text x="352.7" y="633.4" font-size="8.6" fill="#111">−2</text>
<text x="352.7" y="656.1" font-size="8.6" fill="#111">−3</text>
<text x="418.4" y="375.8" font-size="10.5" textLength="7.1" lengthAdjust="spacingAndGlyphs" fill="#111">ii.</text>
<rect x="442.6" y="372.2" width="101.8" height="130.8" fill="none" stroke="#000" stroke-width="0.8"/>
<line x1="437" y1="377.9" x2="442.6" y2="377.9" stroke="#000" stroke-width="0.8"/>
<text x="435.1" y="377.9" font-size="8.9" text-anchor="middle" transform="rotate(-90 435.1 377.9)" fill="#111">2</text>
<line x1="437" y1="408.1" x2="442.6" y2="408.1" stroke="#000" stroke-width="0.8"/>
<text x="435.1" y="408.1" font-size="8.9" text-anchor="middle" transform="rotate(-90 435.1 408.1)" fill="#111">1</text>
<line x1="437" y1="438.3" x2="442.6" y2="438.3" stroke="#000" stroke-width="0.8"/>
<text x="435.1" y="438.3" font-size="8.9" text-anchor="middle" transform="rotate(-90 435.1 438.3)" fill="#111">0</text>
<line x1="437" y1="468.5" x2="442.6" y2="468.5" stroke="#000" stroke-width="0.8"/>
<text x="435.1" y="468.5" font-size="8.9" text-anchor="middle" transform="rotate(-90 435.1 468.5)" fill="#111">−1</text>
<line x1="437" y1="498.7" x2="442.6" y2="498.7" stroke="#000" stroke-width="0.8"/>
<text x="435.1" y="498.7" font-size="8.9" text-anchor="middle" transform="rotate(-90 435.1 498.7)" fill="#111">−2</text>
<text x="425" y="437.6" font-size="8.7" text-anchor="middle" transform="rotate(-90 425 437.6)" fill="#111">Module1 z−score</text>
<line x1="470" y1="421.69" x2="470" y2="399.04" stroke="#444" stroke-width="0.9" stroke-dasharray="3.8 2.8"/>
<line x1="470" y1="468.2" x2="470" y2="493.57" stroke="#444" stroke-width="0.9" stroke-dasharray="3.8 2.8"/>
<line x1="460.7" y1="399.04" x2="479.3" y2="399.04" stroke="#444" stroke-width="0.9"/>
<line x1="460.7" y1="493.57" x2="479.3" y2="493.57" stroke="#444" stroke-width="0.9"/>
<rect x="451.4" y="421.69" width="37.2" height="46.51" fill="#fff" stroke="#000" stroke-width="0.8"/>
<line x1="451.4" y1="446.76" x2="488.6" y2="446.76" stroke="#000" stroke-width="2.4"/>
<line x1="470" y1="503" x2="470" y2="508.6" stroke="#000" stroke-width="0.8"/>
<line x1="517" y1="406.29" x2="517" y2="389.38" stroke="#444" stroke-width="0.9" stroke-dasharray="3.8 2.8"/>
<line x1="517" y1="435.28" x2="517" y2="467.29" stroke="#444" stroke-width="0.9" stroke-dasharray="3.8 2.8"/>
<line x1="507.6" y1="389.38" x2="526.4" y2="389.38" stroke="#444" stroke-width="0.9"/>
<line x1="507.6" y1="467.29" x2="526.4" y2="467.29" stroke="#444" stroke-width="0.9"/>
<rect x="498.2" y="406.29" width="37.6" height="28.99" fill="#fff" stroke="#000" stroke-width="0.8"/>
<line x1="498.2" y1="422.9" x2="535.8" y2="422.9" stroke="#000" stroke-width="2.4"/>
<line x1="517" y1="503" x2="517" y2="508.6" stroke="#000" stroke-width="0.8"/>
<line x1="442.6" y1="438.3" x2="544.4" y2="438.3" stroke="#EA4A38" stroke-width="1.1" stroke-dasharray="3.1 3.2"/>
<circle cx="467.51" cy="398.89" r="2.1" fill="#DE2D1B"/>
<circle cx="475.88" cy="406.18" r="2.1" fill="#DE2D1B"/>
<circle cx="478.85" cy="410.23" r="2.1" fill="#DE2D1B"/>
<circle cx="478.58" cy="414.82" r="2.1" fill="#DE2D1B"/>
<circle cx="476.69" cy="429.13" r="2.1" fill="#DE2D1B"/>
<circle cx="478.85" cy="437.77" r="2.1" fill="#DE2D1B"/>
<circle cx="461.57" cy="441.02" r="2.1" fill="#DE2D1B"/>
<circle cx="472.64" cy="446.69" r="2.1" fill="#DE2D1B"/>
<circle cx="477.23" cy="454.25" r="2.1" fill="#DE2D1B"/>
<circle cx="475.88" cy="459.11" r="2.1" fill="#DE2D1B"/>
<circle cx="471.83" cy="464.78" r="2.1" fill="#DE2D1B"/>
<circle cx="468.86" cy="470.99" r="2.1" fill="#DE2D1B"/>
<circle cx="472.1" cy="470.99" r="2.1" fill="#DE2D1B"/>
<circle cx="469.94" cy="479.63" r="2.1" fill="#DE2D1B"/>
<circle cx="469.4" cy="493.41" r="2.1" fill="#DE2D1B"/>
<circle cx="508.02" cy="389.17" r="2.1" fill="#DE2D1B"/>
<circle cx="519.63" cy="389.44" r="2.1" fill="#DE2D1B"/>
<circle cx="513.15" cy="398.08" r="2.1" fill="#DE2D1B"/>
<circle cx="511.53" cy="403.21" r="2.1" fill="#DE2D1B"/>
<circle cx="518.01" cy="409.15" r="2.1" fill="#DE2D1B"/>
<circle cx="524.49" cy="418.87" r="2.1" fill="#DE2D1B"/>
<circle cx="509.1" cy="421.03" r="2.1" fill="#DE2D1B"/>
<circle cx="519.36" cy="422.92" r="2.1" fill="#DE2D1B"/>
<circle cx="515.31" cy="429.94" r="2.1" fill="#DE2D1B"/>
<circle cx="519.63" cy="433.45" r="2.1" fill="#DE2D1B"/>
<circle cx="518.01" cy="435.07" r="2.1" fill="#DE2D1B"/>
<circle cx="509.64" cy="436.42" r="2.1" fill="#DE2D1B"/>
<circle cx="514.23" cy="442.91" r="2.1" fill="#DE2D1B"/>
<circle cx="509.1" cy="467.48" r="2.1" fill="#DE2D1B"/>
<circle cx="511.8" cy="466.67" r="2.1" fill="#DE2D1B"/>
<text x="444" y="517.7" font-size="8.6" textLength="48.2" lengthAdjust="spacingAndGlyphs" fill="#111">Intra-tumoral</text>
<text x="500.2" y="517.7" font-size="8.6" textLength="46.2" lengthAdjust="spacingAndGlyphs" fill="#111">Peri-tumoral</text>
<rect x="446.4" y="593.64" width="42.7" height="78.36" fill="#FFC9D7"/>
<text x="467.25" y="588.44" font-size="8.8" text-anchor="middle" textLength="8.7" lengthAdjust="spacingAndGlyphs" fill="#111">60</text>
<text x="449" y="682.7" font-size="8.8" textLength="35.2" lengthAdjust="spacingAndGlyphs" fill="#111">specificity</text>
<rect x="497.8" y="567.52" width="42.9" height="104.48" fill="#FFC9D7"/>
<text x="518.75" y="562.32" font-size="8.8" text-anchor="middle" textLength="8.7" lengthAdjust="spacingAndGlyphs" fill="#111">80</text>
<text x="500.3" y="682.7" font-size="8.8" textLength="35.2" lengthAdjust="spacingAndGlyphs" fill="#111">sensitivity</text>
<line x1="442.6" y1="672" x2="548" y2="672" stroke="#1a1a1a" stroke-width="1" stroke-dasharray="3.5 3.15"/>
<line x1="442.6" y1="606.7" x2="548" y2="606.7" stroke="#1a1a1a" stroke-width="1" stroke-dasharray="3.5 3.15"/>
<line x1="442.6" y1="541.4" x2="548" y2="541.4" stroke="#1a1a1a" stroke-width="1" stroke-dasharray="3.5 3.15"/>
<line x1="442.6" y1="541.4" x2="442.6" y2="672" stroke="#000" stroke-width="1"/>
<line x1="437" y1="672" x2="442.6" y2="672" stroke="#000" stroke-width="1"/>
<text x="435.6" y="672" font-size="9.2" text-anchor="middle" textLength="3.9" lengthAdjust="spacingAndGlyphs" transform="rotate(-90 435.6 672)" fill="#111">0</text>
<line x1="437" y1="645.88" x2="442.6" y2="645.88" stroke="#000" stroke-width="1"/>
<text x="435.6" y="645.88" font-size="9.2" text-anchor="middle" textLength="7.6" lengthAdjust="spacingAndGlyphs" transform="rotate(-90 435.6 645.88)" fill="#111">20</text>
<line x1="437" y1="619.76" x2="442.6" y2="619.76" stroke="#000" stroke-width="1"/>
<text x="435.6" y="619.76" font-size="9.2" text-anchor="middle" textLength="7.6" lengthAdjust="spacingAndGlyphs" transform="rotate(-90 435.6 619.76)" fill="#111">40</text>
<line x1="437" y1="593.64" x2="442.6" y2="593.64" stroke="#000" stroke-width="1"/>
<text x="435.6" y="593.64" font-size="9.2" text-anchor="middle" textLength="7.6" lengthAdjust="spacingAndGlyphs" transform="rotate(-90 435.6 593.64)" fill="#111">60</text>
<line x1="437" y1="567.52" x2="442.6" y2="567.52" stroke="#000" stroke-width="1"/>
<text x="435.6" y="567.52" font-size="9.2" text-anchor="middle" textLength="7.6" lengthAdjust="spacingAndGlyphs" transform="rotate(-90 435.6 567.52)" fill="#111">80</text>
<line x1="437" y1="541.4" x2="442.6" y2="541.4" stroke="#000" stroke-width="1"/>
<text x="435.6" y="541.4" font-size="9.2" text-anchor="middle" textLength="11.5" lengthAdjust="spacingAndGlyphs" transform="rotate(-90 435.6 541.4)" fill="#111">100</text>
<text x="424.7" y="609.7" font-size="8.8" text-anchor="middle" textLength="40.6" lengthAdjust="spacingAndGlyphs" transform="rotate(-90 424.7 609.7)" fill="#111">Percent (%)</text>
</svg>
</body></html>
